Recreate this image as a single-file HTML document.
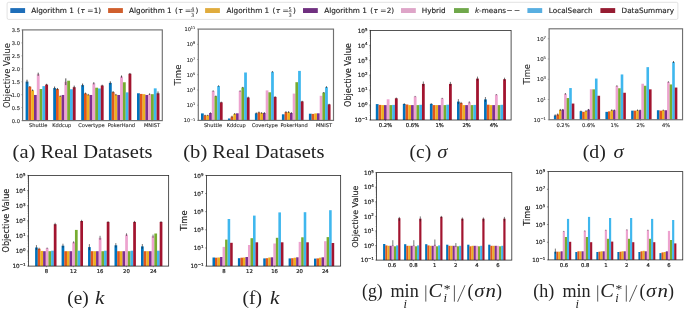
<!DOCTYPE html>
<html lang="en">
<head>
<meta charset="utf-8">
<title>Figure</title>
<style>html,body{margin:0;padding:0;background:#fff}svg{display:block}</style>
</head>
<body>
<svg width="685" height="309" viewBox="0 0 685 309" font-family='"DejaVu Sans","Liberation Sans",sans-serif' fill="#262626" shape-rendering="geometricPrecision">
<rect width="685" height="309" fill="#ffffff"/>
<g id="legend">
<rect x="7.1" y="2.3" width="670.8" height="17.1" rx="1.5" ry="1.5" fill="#fff" stroke="#cfcfcf" stroke-width="0.6"/>
<rect x="10.3" y="8.1" width="14.8" height="4.9" fill="#1E6EB9"/>
<rect x="108.1" y="8.1" width="14.8" height="4.9" fill="#D05F2D"/>
<rect x="205.1" y="8.1" width="14.8" height="4.9" fill="#E0AC3E"/>
<rect x="303" y="8.1" width="14.8" height="4.9" fill="#703080"/>
<rect x="401" y="8.1" width="14.8" height="4.9" fill="#DEA5C8"/>
<rect x="454" y="8.1" width="14.8" height="4.9" fill="#70A84B"/>
<rect x="527.4" y="8.1" width="14.8" height="4.9" fill="#58AFE1"/>
<rect x="600.4" y="8.1" width="14.8" height="4.9" fill="#961C32"/>
<text x="31.2" y="13.2" font-size="7.3" fill="#262626" stroke="#262626" stroke-width="0.15">Algorithm 1</text>
<text x="77.2" y="13.2" font-size="7.25" fill="#262626" stroke="#262626" stroke-width="0.15">(<tspan x="80.5" font-style="italic">τ</tspan><tspan x="87.3">=</tspan><tspan x="93.8">1</tspan><tspan x="98.2">)</tspan></text>
<text x="129" y="13.2" font-size="7.3" fill="#262626" stroke="#262626" stroke-width="0.15">Algorithm 1</text>
<text x="175" y="13.2" font-size="7.25" fill="#262626" stroke="#262626" stroke-width="0.15">(<tspan x="178.3" font-style="italic">τ</tspan><tspan x="185.1">=</tspan></text>
<text x="192.5" y="10.7" font-size="5.1" text-anchor="middle" fill="#262626">4</text><line x1="190.7" y1="11.6" x2="194.3" y2="11.6" stroke="#262626" stroke-width="0.45"/><text x="192.5" y="16.5" font-size="5.1" text-anchor="middle" fill="#262626">3</text>
<text x="195.5" y="13.2" font-size="7.25" fill="#262626" stroke="#262626" stroke-width="0.15">)</text>
<text x="226.5" y="13.2" font-size="7.3" fill="#262626" stroke="#262626" stroke-width="0.15">Algorithm 1</text>
<text x="272.5" y="13.2" font-size="7.25" fill="#262626" stroke="#262626" stroke-width="0.15">(<tspan x="275.8" font-style="italic">τ</tspan><tspan x="282.6">=</tspan></text>
<text x="290" y="10.7" font-size="5.1" text-anchor="middle" fill="#262626">5</text><line x1="288.2" y1="11.6" x2="291.8" y2="11.6" stroke="#262626" stroke-width="0.45"/><text x="290" y="16.5" font-size="5.1" text-anchor="middle" fill="#262626">3</text>
<text x="293" y="13.2" font-size="7.25" fill="#262626" stroke="#262626" stroke-width="0.15">)</text>
<text x="324.2" y="13.2" font-size="7.3" fill="#262626" stroke="#262626" stroke-width="0.15">Algorithm 1</text>
<text x="370.2" y="13.2" font-size="7.25" fill="#262626" stroke="#262626" stroke-width="0.15">(<tspan x="373.5" font-style="italic">τ</tspan><tspan x="380.3">=</tspan><tspan x="386.8">2</tspan><tspan x="391.2">)</tspan></text>
<text x="421.7" y="13.2" font-size="7.25" fill="#262626" stroke="#262626" stroke-width="0.15">Hybrid</text>
<text x="474.9" y="13.2" font-size="7.25" fill="#262626" stroke="#262626" stroke-width="0.15"><tspan font-style="italic">k</tspan>-means<tspan x="506.4">−</tspan><tspan x="514.0">−</tspan></text>
<text x="548.8" y="13.2" font-size="7.25" fill="#262626" stroke="#262626" stroke-width="0.15">LocalSearch</text>
<text x="621.6" y="13.2" font-size="7.25" fill="#262626" stroke="#262626" stroke-width="0.15">DataSummary</text>
</g>
<g id="chart-a">
<rect x="25.6" y="81.62" width="2.85" height="38.98" fill="#0072BD"/>
<rect x="28.4" y="86.67" width="2.85" height="33.93" fill="#E2581C"/>
<rect x="31.2" y="90.3" width="2.85" height="30.3" fill="#EDB120"/>
<rect x="34" y="94.96" width="2.85" height="25.64" fill="#7E2F8E"/>
<rect x="36.8" y="74.24" width="2.85" height="46.36" fill="#EDA3CF"/>
<rect x="39.6" y="89" width="2.85" height="31.6" fill="#77AC30"/>
<rect x="42.4" y="86.15" width="2.85" height="34.45" fill="#3FB7EE"/>
<rect x="45.2" y="84.6" width="2.85" height="36" fill="#A2142F"/>
<line x1="27" y1="83.56" x2="27" y2="79.68" stroke="#3a3a3a" stroke-width="0.9"/>
<line x1="29.8" y1="87.19" x2="29.8" y2="86.15" stroke="#3a3a3a" stroke-width="0.9"/>
<line x1="32.6" y1="91.07" x2="32.6" y2="89.52" stroke="#3a3a3a" stroke-width="0.9"/>
<line x1="38.2" y1="75.79" x2="38.2" y2="72.69" stroke="#3a3a3a" stroke-width="0.9"/>
<line x1="46.6" y1="85.38" x2="46.6" y2="83.82" stroke="#3a3a3a" stroke-width="0.9"/>
<rect x="53.2" y="88.1" width="2.85" height="32.5" fill="#0072BD"/>
<rect x="56" y="89" width="2.85" height="31.6" fill="#E2581C"/>
<rect x="58.8" y="96.25" width="2.85" height="24.35" fill="#EDB120"/>
<rect x="61.6" y="94.96" width="2.85" height="25.64" fill="#7E2F8E"/>
<rect x="64.4" y="81.75" width="2.85" height="38.85" fill="#EDA3CF"/>
<rect x="67.2" y="80.71" width="2.85" height="39.89" fill="#77AC30"/>
<rect x="70" y="89.26" width="2.85" height="31.34" fill="#3FB7EE"/>
<rect x="72.8" y="87.19" width="2.85" height="33.41" fill="#A2142F"/>
<line x1="54.6" y1="89.65" x2="54.6" y2="86.54" stroke="#3a3a3a" stroke-width="0.9"/>
<line x1="57.4" y1="90.04" x2="57.4" y2="87.97" stroke="#3a3a3a" stroke-width="0.9"/>
<line x1="60.2" y1="97.03" x2="60.2" y2="95.48" stroke="#3a3a3a" stroke-width="0.9"/>
<line x1="65.8" y1="85.12" x2="65.8" y2="78.38" stroke="#3a3a3a" stroke-width="0.9"/>
<line x1="74.2" y1="88.74" x2="74.2" y2="85.63" stroke="#3a3a3a" stroke-width="0.9"/>
<rect x="81.2" y="85.12" width="2.85" height="35.48" fill="#0072BD"/>
<rect x="84" y="93.41" width="2.85" height="27.2" fill="#E2581C"/>
<rect x="86.8" y="94.7" width="2.85" height="25.9" fill="#EDB120"/>
<rect x="89.6" y="94.96" width="2.85" height="25.64" fill="#7E2F8E"/>
<rect x="92.4" y="83.3" width="2.85" height="37.3" fill="#EDA3CF"/>
<rect x="95.2" y="87.71" width="2.85" height="32.89" fill="#77AC30"/>
<rect x="98" y="88.48" width="2.85" height="32.12" fill="#3FB7EE"/>
<rect x="100.8" y="85.51" width="2.85" height="35.09" fill="#A2142F"/>
<line x1="82.6" y1="86.67" x2="82.6" y2="83.56" stroke="#3a3a3a" stroke-width="0.9"/>
<line x1="85.4" y1="94.18" x2="85.4" y2="92.63" stroke="#3a3a3a" stroke-width="0.9"/>
<line x1="88.2" y1="95.48" x2="88.2" y2="93.92" stroke="#3a3a3a" stroke-width="0.9"/>
<line x1="93.8" y1="84.34" x2="93.8" y2="82.27" stroke="#3a3a3a" stroke-width="0.9"/>
<line x1="102.2" y1="86.28" x2="102.2" y2="84.73" stroke="#3a3a3a" stroke-width="0.9"/>
<rect x="108.9" y="82.92" width="2.85" height="37.68" fill="#0072BD"/>
<rect x="111.7" y="92.11" width="2.85" height="28.49" fill="#E2581C"/>
<rect x="114.5" y="94.7" width="2.85" height="25.9" fill="#EDB120"/>
<rect x="117.3" y="94.96" width="2.85" height="25.64" fill="#7E2F8E"/>
<rect x="120.1" y="76.57" width="2.85" height="44.03" fill="#EDA3CF"/>
<rect x="122.9" y="82.27" width="2.85" height="38.33" fill="#77AC30"/>
<rect x="125.7" y="92.37" width="2.85" height="28.23" fill="#3FB7EE"/>
<rect x="128.5" y="73.72" width="2.85" height="46.88" fill="#A2142F"/>
<line x1="110.3" y1="84.47" x2="110.3" y2="81.36" stroke="#3a3a3a" stroke-width="0.9"/>
<line x1="113.1" y1="93.15" x2="113.1" y2="91.07" stroke="#3a3a3a" stroke-width="0.9"/>
<line x1="115.9" y1="95.48" x2="115.9" y2="93.92" stroke="#3a3a3a" stroke-width="0.9"/>
<line x1="121.5" y1="77.61" x2="121.5" y2="75.53" stroke="#3a3a3a" stroke-width="0.9"/>
<line x1="129.9" y1="74.5" x2="129.9" y2="72.94" stroke="#3a3a3a" stroke-width="0.9"/>
<rect x="137" y="93.28" width="2.85" height="27.32" fill="#0072BD"/>
<rect x="139.8" y="93.92" width="2.85" height="26.68" fill="#E2581C"/>
<rect x="142.6" y="94.18" width="2.85" height="26.42" fill="#EDB120"/>
<rect x="145.4" y="94.96" width="2.85" height="25.64" fill="#7E2F8E"/>
<rect x="148.2" y="94.18" width="2.85" height="26.42" fill="#EDA3CF"/>
<rect x="151" y="94.18" width="2.85" height="26.42" fill="#77AC30"/>
<rect x="153.8" y="88.35" width="2.85" height="32.25" fill="#3FB7EE"/>
<rect x="156.6" y="93.28" width="2.85" height="27.32" fill="#A2142F"/>
<line x1="149.6" y1="94.96" x2="149.6" y2="93.41" stroke="#3a3a3a" stroke-width="0.9"/>
<line x1="158" y1="95.09" x2="158" y2="91.46" stroke="#3a3a3a" stroke-width="0.9"/>
<rect x="22.6" y="29.9" width="139.7" height="90.7" fill="none" stroke="#707070" stroke-width="1.15"/>
<line x1="21.3" y1="120.6" x2="22.6" y2="120.6" stroke="#707070" stroke-width="0.5"/>
<text x="20" y="123.1" font-size="5.2" text-anchor="end" stroke="#262626" stroke-width="0.1">0.0</text>
<line x1="21.3" y1="107.65" x2="22.6" y2="107.65" stroke="#707070" stroke-width="0.5"/>
<text x="20" y="110.15" font-size="5.2" text-anchor="end" stroke="#262626" stroke-width="0.1">0.5</text>
<line x1="21.3" y1="94.7" x2="22.6" y2="94.7" stroke="#707070" stroke-width="0.5"/>
<text x="20" y="97.2" font-size="5.2" text-anchor="end" stroke="#262626" stroke-width="0.1">1.0</text>
<line x1="21.3" y1="81.75" x2="22.6" y2="81.75" stroke="#707070" stroke-width="0.5"/>
<text x="20" y="84.25" font-size="5.2" text-anchor="end" stroke="#262626" stroke-width="0.1">1.5</text>
<line x1="21.3" y1="68.8" x2="22.6" y2="68.8" stroke="#707070" stroke-width="0.5"/>
<text x="20" y="71.3" font-size="5.2" text-anchor="end" stroke="#262626" stroke-width="0.1">2.0</text>
<line x1="21.3" y1="55.85" x2="22.6" y2="55.85" stroke="#707070" stroke-width="0.5"/>
<text x="20" y="58.35" font-size="5.2" text-anchor="end" stroke="#262626" stroke-width="0.1">2.5</text>
<line x1="21.3" y1="42.9" x2="22.6" y2="42.9" stroke="#707070" stroke-width="0.5"/>
<text x="20" y="45.4" font-size="5.2" text-anchor="end" stroke="#262626" stroke-width="0.1">3.0</text>
<line x1="21.3" y1="29.95" x2="22.6" y2="29.95" stroke="#707070" stroke-width="0.5"/>
<text x="20" y="32.45" font-size="5.2" text-anchor="end" stroke="#262626" stroke-width="0.1">3.5</text>
<line x1="38.2" y1="120.6" x2="38.2" y2="121.7" stroke="#707070" stroke-width="0.4"/>
<text x="38.2" y="127.26" font-size="5.1" text-anchor="middle" stroke="#262626" stroke-width="0.1">Shuttle</text>
<line x1="61.7" y1="120.6" x2="61.7" y2="121.7" stroke="#707070" stroke-width="0.4"/>
<text x="61.7" y="127.26" font-size="5.1" text-anchor="middle" stroke="#262626" stroke-width="0.1">Kddcup</text>
<line x1="91.4" y1="120.6" x2="91.4" y2="121.7" stroke="#707070" stroke-width="0.4"/>
<text x="91.4" y="127.26" font-size="5.1" text-anchor="middle" stroke="#262626" stroke-width="0.1">Covertype</text>
<line x1="121.4" y1="120.6" x2="121.4" y2="121.7" stroke="#707070" stroke-width="0.4"/>
<text x="121.4" y="127.26" font-size="5.1" text-anchor="middle" stroke="#262626" stroke-width="0.1">PokerHand</text>
<line x1="152" y1="120.6" x2="152" y2="121.7" stroke="#707070" stroke-width="0.4"/>
<text x="152" y="127.26" font-size="5.1" text-anchor="middle" stroke="#262626" stroke-width="0.1">MNIST</text>
<text transform="translate(9.5 75.6) rotate(-90)" font-size="8.3" text-anchor="middle" stroke="#262626" stroke-width="0.08">Objective Value</text>
</g>
<g id="chart-b">
<rect x="201" y="113.4" width="2.75" height="7" fill="#0072BD"/>
<rect x="203.7" y="115.4" width="2.75" height="5" fill="#E2581C"/>
<rect x="206.4" y="115.4" width="2.75" height="5" fill="#EDB120"/>
<rect x="209.1" y="113" width="2.75" height="7.4" fill="#7E2F8E"/>
<rect x="211.8" y="91" width="2.75" height="29.4" fill="#EDA3CF"/>
<rect x="214.5" y="96.2" width="2.75" height="24.2" fill="#77AC30"/>
<rect x="217.2" y="86" width="2.75" height="34.4" fill="#3FB7EE"/>
<rect x="219.9" y="102.3" width="2.75" height="18.1" fill="#A2142F"/>
<line x1="205.05" y1="116" x2="205.05" y2="114.8" stroke="#3a3a3a" stroke-width="0.9"/>
<line x1="207.75" y1="116" x2="207.75" y2="114.8" stroke="#3a3a3a" stroke-width="0.9"/>
<line x1="210.45" y1="113.6" x2="210.45" y2="112.4" stroke="#3a3a3a" stroke-width="0.9"/>
<line x1="213.15" y1="91.6" x2="213.15" y2="90.4" stroke="#3a3a3a" stroke-width="0.9"/>
<line x1="215.85" y1="96.8" x2="215.85" y2="95.6" stroke="#3a3a3a" stroke-width="0.9"/>
<line x1="218.55" y1="86.6" x2="218.55" y2="85.4" stroke="#3a3a3a" stroke-width="0.9"/>
<line x1="221.25" y1="102.9" x2="221.25" y2="101.7" stroke="#3a3a3a" stroke-width="0.9"/>
<rect x="227.95" y="118.5" width="2.75" height="1.9" fill="#0072BD"/>
<rect x="230.65" y="116.65" width="2.75" height="3.75" fill="#E2581C"/>
<rect x="233.35" y="113.9" width="2.75" height="6.5" fill="#EDB120"/>
<rect x="236.05" y="113.3" width="2.75" height="7.1" fill="#7E2F8E"/>
<rect x="238.75" y="91" width="2.75" height="29.4" fill="#EDA3CF"/>
<rect x="241.45" y="87.5" width="2.75" height="32.9" fill="#77AC30"/>
<rect x="244.15" y="72.5" width="2.75" height="47.9" fill="#3FB7EE"/>
<rect x="246.85" y="97.5" width="2.75" height="22.9" fill="#A2142F"/>
<line x1="232" y1="117.55" x2="232" y2="115.75" stroke="#3a3a3a" stroke-width="0.9"/>
<line x1="234.7" y1="114.7" x2="234.7" y2="113.1" stroke="#3a3a3a" stroke-width="0.9"/>
<line x1="240.1" y1="91.6" x2="240.1" y2="90.4" stroke="#3a3a3a" stroke-width="0.9"/>
<line x1="242.8" y1="88.1" x2="242.8" y2="86.9" stroke="#3a3a3a" stroke-width="0.9"/>
<line x1="248.2" y1="98.3" x2="248.2" y2="96.7" stroke="#3a3a3a" stroke-width="0.9"/>
<rect x="254.9" y="113.3" width="2.75" height="7.1" fill="#0072BD"/>
<rect x="257.6" y="112.4" width="2.75" height="8" fill="#E2581C"/>
<rect x="260.3" y="113" width="2.75" height="7.4" fill="#EDB120"/>
<rect x="263" y="113" width="2.75" height="7.4" fill="#7E2F8E"/>
<rect x="265.7" y="90.4" width="2.75" height="30" fill="#EDA3CF"/>
<rect x="268.4" y="92.3" width="2.75" height="28.1" fill="#77AC30"/>
<rect x="271.1" y="71.8" width="2.75" height="48.6" fill="#3FB7EE"/>
<rect x="273.8" y="96.9" width="2.75" height="23.5" fill="#A2142F"/>
<line x1="256.25" y1="114.1" x2="256.25" y2="112.5" stroke="#3a3a3a" stroke-width="0.9"/>
<line x1="258.95" y1="113.2" x2="258.95" y2="111.6" stroke="#3a3a3a" stroke-width="0.9"/>
<line x1="261.65" y1="113.8" x2="261.65" y2="112.2" stroke="#3a3a3a" stroke-width="0.9"/>
<line x1="264.35" y1="113.8" x2="264.35" y2="112.2" stroke="#3a3a3a" stroke-width="0.9"/>
<line x1="272.45" y1="72.4" x2="272.45" y2="71.2" stroke="#3a3a3a" stroke-width="0.9"/>
<line x1="275.15" y1="97.5" x2="275.15" y2="96.3" stroke="#3a3a3a" stroke-width="0.9"/>
<rect x="281.9" y="114.3" width="2.75" height="6.1" fill="#0072BD"/>
<rect x="284.6" y="112.1" width="2.75" height="8.3" fill="#E2581C"/>
<rect x="287.3" y="112.1" width="2.75" height="8.3" fill="#EDB120"/>
<rect x="290" y="113" width="2.75" height="7.4" fill="#7E2F8E"/>
<rect x="292.7" y="93.6" width="2.75" height="26.8" fill="#EDA3CF"/>
<rect x="295.4" y="82.2" width="2.75" height="38.2" fill="#77AC30"/>
<rect x="298.1" y="70.9" width="2.75" height="49.5" fill="#3FB7EE"/>
<rect x="300.8" y="101.4" width="2.75" height="19" fill="#A2142F"/>
<line x1="285.95" y1="113" x2="285.95" y2="111.2" stroke="#3a3a3a" stroke-width="0.9"/>
<line x1="288.65" y1="113" x2="288.65" y2="111.2" stroke="#3a3a3a" stroke-width="0.9"/>
<line x1="291.35" y1="113.8" x2="291.35" y2="112.2" stroke="#3a3a3a" stroke-width="0.9"/>
<line x1="302.15" y1="102" x2="302.15" y2="100.8" stroke="#3a3a3a" stroke-width="0.9"/>
<rect x="308.9" y="113.7" width="2.75" height="6.7" fill="#0072BD"/>
<rect x="311.6" y="113.9" width="2.75" height="6.5" fill="#E2581C"/>
<rect x="314.3" y="113.4" width="2.75" height="7" fill="#EDB120"/>
<rect x="317" y="113.3" width="2.75" height="7.1" fill="#7E2F8E"/>
<rect x="319.7" y="95.8" width="2.75" height="24.6" fill="#EDA3CF"/>
<rect x="322.4" y="92.6" width="2.75" height="27.8" fill="#77AC30"/>
<rect x="325.1" y="87.1" width="2.75" height="33.3" fill="#3FB7EE"/>
<rect x="327.8" y="104.4" width="2.75" height="16" fill="#A2142F"/>
<line x1="323.75" y1="93.2" x2="323.75" y2="92" stroke="#3a3a3a" stroke-width="0.9"/>
<line x1="326.45" y1="87.9" x2="326.45" y2="86.3" stroke="#3a3a3a" stroke-width="0.9"/>
<line x1="329.15" y1="105" x2="329.15" y2="103.8" stroke="#3a3a3a" stroke-width="0.9"/>
<rect x="198.3" y="29.1" width="135.2" height="91.3" fill="none" stroke="#707070" stroke-width="1.15"/>
<line x1="197" y1="120.4" x2="198.3" y2="120.4" stroke="#707070" stroke-width="0.5"/>
<text x="195.3" y="122.38" font-size="5" text-anchor="end" stroke="#262626" stroke-width="0.1">10<tspan dy="-1.85" font-size="3.5">−1</tspan></text>
<line x1="197" y1="105.18" x2="198.3" y2="105.18" stroke="#707070" stroke-width="0.5"/>
<text x="195.3" y="107.16" font-size="5" text-anchor="end" stroke="#262626" stroke-width="0.1">10<tspan dy="-1.85" font-size="3.5">1</tspan></text>
<line x1="197" y1="89.96" x2="198.3" y2="89.96" stroke="#707070" stroke-width="0.5"/>
<text x="195.3" y="91.94" font-size="5" text-anchor="end" stroke="#262626" stroke-width="0.1">10<tspan dy="-1.85" font-size="3.5">3</tspan></text>
<line x1="197" y1="74.74" x2="198.3" y2="74.74" stroke="#707070" stroke-width="0.5"/>
<text x="195.3" y="76.72" font-size="5" text-anchor="end" stroke="#262626" stroke-width="0.1">10<tspan dy="-1.85" font-size="3.5">5</tspan></text>
<line x1="197" y1="59.52" x2="198.3" y2="59.52" stroke="#707070" stroke-width="0.5"/>
<text x="195.3" y="61.5" font-size="5" text-anchor="end" stroke="#262626" stroke-width="0.1">10<tspan dy="-1.85" font-size="3.5">7</tspan></text>
<line x1="197" y1="44.3" x2="198.3" y2="44.3" stroke="#707070" stroke-width="0.5"/>
<text x="195.3" y="46.27" font-size="5" text-anchor="end" stroke="#262626" stroke-width="0.1">10<tspan dy="-1.85" font-size="3.5">9</tspan></text>
<line x1="197" y1="29.08" x2="198.3" y2="29.08" stroke="#707070" stroke-width="0.5"/>
<text x="195.3" y="31.05" font-size="5" text-anchor="end" stroke="#262626" stroke-width="0.1">10<tspan dy="-1.85" font-size="3.5">11</tspan></text>
<line x1="213" y1="120.4" x2="213" y2="121.5" stroke="#707070" stroke-width="0.4"/>
<text x="213" y="127.36" font-size="5.1" text-anchor="middle" stroke="#262626" stroke-width="0.1">Shuttle</text>
<line x1="236.2" y1="120.4" x2="236.2" y2="121.5" stroke="#707070" stroke-width="0.4"/>
<text x="236.2" y="127.36" font-size="5.1" text-anchor="middle" stroke="#262626" stroke-width="0.1">Kddcup</text>
<line x1="264.8" y1="120.4" x2="264.8" y2="121.5" stroke="#707070" stroke-width="0.4"/>
<text x="264.8" y="127.36" font-size="5.1" text-anchor="middle" stroke="#262626" stroke-width="0.1">Covertype</text>
<line x1="294.1" y1="120.4" x2="294.1" y2="121.5" stroke="#707070" stroke-width="0.4"/>
<text x="294.1" y="127.36" font-size="5.1" text-anchor="middle" stroke="#262626" stroke-width="0.1">PokerHand</text>
<line x1="324" y1="120.4" x2="324" y2="121.5" stroke="#707070" stroke-width="0.4"/>
<text x="324" y="127.36" font-size="5.1" text-anchor="middle" stroke="#262626" stroke-width="0.1">MNIST</text>
<text transform="translate(181 75.1) rotate(-90)" font-size="8.6" text-anchor="middle" stroke="#262626" stroke-width="0.08">Time</text>
</g>
<g id="chart-c">
<rect x="375.8" y="104.1" width="2.78" height="15.9" fill="#0072BD"/>
<rect x="378.53" y="104.9" width="2.78" height="15.1" fill="#E2581C"/>
<rect x="381.26" y="105.1" width="2.78" height="14.9" fill="#EDB120"/>
<rect x="383.99" y="105.1" width="2.78" height="14.9" fill="#7E2F8E"/>
<rect x="386.72" y="99.3" width="2.78" height="20.7" fill="#EDA3CF"/>
<rect x="389.45" y="105.1" width="2.78" height="14.9" fill="#77AC30"/>
<rect x="392.18" y="104.9" width="2.78" height="15.1" fill="#3FB7EE"/>
<rect x="394.91" y="98.3" width="2.78" height="21.7" fill="#A2142F"/>
<line x1="396.28" y1="99.1" x2="396.28" y2="97.5" stroke="#1c1c1c" stroke-width="0.6"/>
<rect x="402.85" y="104" width="2.78" height="16" fill="#0072BD"/>
<rect x="405.58" y="104.5" width="2.78" height="15.5" fill="#E2581C"/>
<rect x="408.31" y="105.1" width="2.78" height="14.9" fill="#EDB120"/>
<rect x="411.04" y="105.1" width="2.78" height="14.9" fill="#7E2F8E"/>
<rect x="413.77" y="96.5" width="2.78" height="23.5" fill="#EDA3CF"/>
<rect x="416.5" y="105.1" width="2.78" height="14.9" fill="#77AC30"/>
<rect x="419.23" y="104.8" width="2.78" height="15.2" fill="#3FB7EE"/>
<rect x="421.96" y="83.9" width="2.78" height="36.1" fill="#A2142F"/>
<line x1="404.22" y1="104.9" x2="404.22" y2="103.1" stroke="#1c1c1c" stroke-width="0.6"/>
<line x1="415.14" y1="97.1" x2="415.14" y2="95.9" stroke="#1c1c1c" stroke-width="0.6"/>
<line x1="423.33" y1="86.3" x2="423.33" y2="81.5" stroke="#1c1c1c" stroke-width="0.6"/>
<rect x="429.9" y="103.9" width="2.78" height="16.1" fill="#0072BD"/>
<rect x="432.63" y="105.1" width="2.78" height="14.9" fill="#E2581C"/>
<rect x="435.36" y="105.1" width="2.78" height="14.9" fill="#EDB120"/>
<rect x="438.09" y="105.1" width="2.78" height="14.9" fill="#7E2F8E"/>
<rect x="440.82" y="98.4" width="2.78" height="21.6" fill="#EDA3CF"/>
<rect x="443.55" y="105.1" width="2.78" height="14.9" fill="#77AC30"/>
<rect x="446.28" y="104.7" width="2.78" height="15.3" fill="#3FB7EE"/>
<rect x="449.01" y="83.9" width="2.78" height="36.1" fill="#A2142F"/>
<line x1="431.26" y1="104.7" x2="431.26" y2="103.1" stroke="#1c1c1c" stroke-width="0.6"/>
<line x1="442.19" y1="99" x2="442.19" y2="97.8" stroke="#1c1c1c" stroke-width="0.6"/>
<line x1="450.38" y1="85.9" x2="450.38" y2="81.9" stroke="#1c1c1c" stroke-width="0.6"/>
<rect x="457" y="101.6" width="2.78" height="18.4" fill="#0072BD"/>
<rect x="459.73" y="102.9" width="2.78" height="17.1" fill="#E2581C"/>
<rect x="462.46" y="105.1" width="2.78" height="14.9" fill="#EDB120"/>
<rect x="465.19" y="105.1" width="2.78" height="14.9" fill="#7E2F8E"/>
<rect x="467.92" y="102.3" width="2.78" height="17.7" fill="#EDA3CF"/>
<rect x="470.65" y="105.1" width="2.78" height="14.9" fill="#77AC30"/>
<rect x="473.38" y="104.9" width="2.78" height="15.1" fill="#3FB7EE"/>
<rect x="476.11" y="78.6" width="2.78" height="41.4" fill="#A2142F"/>
<line x1="458.37" y1="104.1" x2="458.37" y2="99.1" stroke="#1c1c1c" stroke-width="0.6"/>
<line x1="461.1" y1="103.9" x2="461.1" y2="101.9" stroke="#1c1c1c" stroke-width="0.6"/>
<line x1="469.29" y1="103.3" x2="469.29" y2="101.3" stroke="#1c1c1c" stroke-width="0.6"/>
<line x1="477.48" y1="80.6" x2="477.48" y2="76.6" stroke="#1c1c1c" stroke-width="0.6"/>
<rect x="484.05" y="99.4" width="2.78" height="20.6" fill="#0072BD"/>
<rect x="486.78" y="104.7" width="2.78" height="15.3" fill="#E2581C"/>
<rect x="489.51" y="105.1" width="2.78" height="14.9" fill="#EDB120"/>
<rect x="492.24" y="105.1" width="2.78" height="14.9" fill="#7E2F8E"/>
<rect x="494.97" y="94.6" width="2.78" height="25.4" fill="#EDA3CF"/>
<rect x="497.7" y="105.1" width="2.78" height="14.9" fill="#77AC30"/>
<rect x="500.43" y="104.8" width="2.78" height="15.2" fill="#3FB7EE"/>
<rect x="503.16" y="79.2" width="2.78" height="40.8" fill="#A2142F"/>
<line x1="485.42" y1="101.8" x2="485.42" y2="97" stroke="#1c1c1c" stroke-width="0.6"/>
<line x1="496.34" y1="95.2" x2="496.34" y2="94" stroke="#1c1c1c" stroke-width="0.6"/>
<line x1="504.53" y1="80.7" x2="504.53" y2="77.7" stroke="#1c1c1c" stroke-width="0.6"/>
<rect x="370.45" y="30.4" width="140.65" height="89.6" fill="none" stroke="#2a2a2a" stroke-width="0.8"/>
<line x1="369.15" y1="120" x2="370.45" y2="120" stroke="#2a2a2a" stroke-width="0.5"/>
<text x="367.5" y="122.23" font-size="5.7" text-anchor="end" stroke="#262626" stroke-width="0.2">10<tspan dy="-2.11" font-size="3.99">−1</tspan></text>
<line x1="369.15" y1="105.07" x2="370.45" y2="105.07" stroke="#2a2a2a" stroke-width="0.5"/>
<text x="367.5" y="107.3" font-size="5.7" text-anchor="end" stroke="#262626" stroke-width="0.2">10<tspan dy="-2.11" font-size="3.99">0</tspan></text>
<line x1="369.15" y1="90.14" x2="370.45" y2="90.14" stroke="#2a2a2a" stroke-width="0.5"/>
<text x="367.5" y="92.37" font-size="5.7" text-anchor="end" stroke="#262626" stroke-width="0.2">10<tspan dy="-2.11" font-size="3.99">1</tspan></text>
<line x1="369.15" y1="75.21" x2="370.45" y2="75.21" stroke="#2a2a2a" stroke-width="0.5"/>
<text x="367.5" y="77.44" font-size="5.7" text-anchor="end" stroke="#262626" stroke-width="0.2">10<tspan dy="-2.11" font-size="3.99">2</tspan></text>
<line x1="369.15" y1="60.28" x2="370.45" y2="60.28" stroke="#2a2a2a" stroke-width="0.5"/>
<text x="367.5" y="62.51" font-size="5.7" text-anchor="end" stroke="#262626" stroke-width="0.2">10<tspan dy="-2.11" font-size="3.99">3</tspan></text>
<line x1="369.15" y1="45.35" x2="370.45" y2="45.35" stroke="#2a2a2a" stroke-width="0.5"/>
<text x="367.5" y="47.58" font-size="5.7" text-anchor="end" stroke="#262626" stroke-width="0.2">10<tspan dy="-2.11" font-size="3.99">4</tspan></text>
<line x1="369.15" y1="30.42" x2="370.45" y2="30.42" stroke="#2a2a2a" stroke-width="0.5"/>
<text x="367.5" y="32.65" font-size="5.7" text-anchor="end" stroke="#262626" stroke-width="0.2">10<tspan dy="-2.11" font-size="3.99">5</tspan></text>
<line x1="369.55" y1="115.51" x2="370.45" y2="115.51" stroke="#2a2a2a" stroke-width="0.3"/>
<line x1="369.55" y1="112.88" x2="370.45" y2="112.88" stroke="#2a2a2a" stroke-width="0.3"/>
<line x1="369.55" y1="111.01" x2="370.45" y2="111.01" stroke="#2a2a2a" stroke-width="0.3"/>
<line x1="369.55" y1="109.56" x2="370.45" y2="109.56" stroke="#2a2a2a" stroke-width="0.3"/>
<line x1="369.55" y1="108.38" x2="370.45" y2="108.38" stroke="#2a2a2a" stroke-width="0.3"/>
<line x1="369.55" y1="107.38" x2="370.45" y2="107.38" stroke="#2a2a2a" stroke-width="0.3"/>
<line x1="369.55" y1="106.52" x2="370.45" y2="106.52" stroke="#2a2a2a" stroke-width="0.3"/>
<line x1="369.55" y1="105.75" x2="370.45" y2="105.75" stroke="#2a2a2a" stroke-width="0.3"/>
<line x1="369.55" y1="100.58" x2="370.45" y2="100.58" stroke="#2a2a2a" stroke-width="0.3"/>
<line x1="369.55" y1="97.95" x2="370.45" y2="97.95" stroke="#2a2a2a" stroke-width="0.3"/>
<line x1="369.55" y1="96.08" x2="370.45" y2="96.08" stroke="#2a2a2a" stroke-width="0.3"/>
<line x1="369.55" y1="94.63" x2="370.45" y2="94.63" stroke="#2a2a2a" stroke-width="0.3"/>
<line x1="369.55" y1="93.45" x2="370.45" y2="93.45" stroke="#2a2a2a" stroke-width="0.3"/>
<line x1="369.55" y1="92.45" x2="370.45" y2="92.45" stroke="#2a2a2a" stroke-width="0.3"/>
<line x1="369.55" y1="91.59" x2="370.45" y2="91.59" stroke="#2a2a2a" stroke-width="0.3"/>
<line x1="369.55" y1="90.82" x2="370.45" y2="90.82" stroke="#2a2a2a" stroke-width="0.3"/>
<line x1="369.55" y1="85.65" x2="370.45" y2="85.65" stroke="#2a2a2a" stroke-width="0.3"/>
<line x1="369.55" y1="83.02" x2="370.45" y2="83.02" stroke="#2a2a2a" stroke-width="0.3"/>
<line x1="369.55" y1="81.15" x2="370.45" y2="81.15" stroke="#2a2a2a" stroke-width="0.3"/>
<line x1="369.55" y1="79.7" x2="370.45" y2="79.7" stroke="#2a2a2a" stroke-width="0.3"/>
<line x1="369.55" y1="78.52" x2="370.45" y2="78.52" stroke="#2a2a2a" stroke-width="0.3"/>
<line x1="369.55" y1="77.52" x2="370.45" y2="77.52" stroke="#2a2a2a" stroke-width="0.3"/>
<line x1="369.55" y1="76.66" x2="370.45" y2="76.66" stroke="#2a2a2a" stroke-width="0.3"/>
<line x1="369.55" y1="75.89" x2="370.45" y2="75.89" stroke="#2a2a2a" stroke-width="0.3"/>
<line x1="369.55" y1="70.72" x2="370.45" y2="70.72" stroke="#2a2a2a" stroke-width="0.3"/>
<line x1="369.55" y1="68.09" x2="370.45" y2="68.09" stroke="#2a2a2a" stroke-width="0.3"/>
<line x1="369.55" y1="66.22" x2="370.45" y2="66.22" stroke="#2a2a2a" stroke-width="0.3"/>
<line x1="369.55" y1="64.77" x2="370.45" y2="64.77" stroke="#2a2a2a" stroke-width="0.3"/>
<line x1="369.55" y1="63.59" x2="370.45" y2="63.59" stroke="#2a2a2a" stroke-width="0.3"/>
<line x1="369.55" y1="62.59" x2="370.45" y2="62.59" stroke="#2a2a2a" stroke-width="0.3"/>
<line x1="369.55" y1="61.73" x2="370.45" y2="61.73" stroke="#2a2a2a" stroke-width="0.3"/>
<line x1="369.55" y1="60.96" x2="370.45" y2="60.96" stroke="#2a2a2a" stroke-width="0.3"/>
<line x1="369.55" y1="55.79" x2="370.45" y2="55.79" stroke="#2a2a2a" stroke-width="0.3"/>
<line x1="369.55" y1="53.16" x2="370.45" y2="53.16" stroke="#2a2a2a" stroke-width="0.3"/>
<line x1="369.55" y1="51.29" x2="370.45" y2="51.29" stroke="#2a2a2a" stroke-width="0.3"/>
<line x1="369.55" y1="49.84" x2="370.45" y2="49.84" stroke="#2a2a2a" stroke-width="0.3"/>
<line x1="369.55" y1="48.66" x2="370.45" y2="48.66" stroke="#2a2a2a" stroke-width="0.3"/>
<line x1="369.55" y1="47.66" x2="370.45" y2="47.66" stroke="#2a2a2a" stroke-width="0.3"/>
<line x1="369.55" y1="46.8" x2="370.45" y2="46.8" stroke="#2a2a2a" stroke-width="0.3"/>
<line x1="369.55" y1="46.03" x2="370.45" y2="46.03" stroke="#2a2a2a" stroke-width="0.3"/>
<line x1="369.55" y1="40.86" x2="370.45" y2="40.86" stroke="#2a2a2a" stroke-width="0.3"/>
<line x1="369.55" y1="38.23" x2="370.45" y2="38.23" stroke="#2a2a2a" stroke-width="0.3"/>
<line x1="369.55" y1="36.36" x2="370.45" y2="36.36" stroke="#2a2a2a" stroke-width="0.3"/>
<line x1="369.55" y1="34.91" x2="370.45" y2="34.91" stroke="#2a2a2a" stroke-width="0.3"/>
<line x1="369.55" y1="33.73" x2="370.45" y2="33.73" stroke="#2a2a2a" stroke-width="0.3"/>
<line x1="369.55" y1="32.73" x2="370.45" y2="32.73" stroke="#2a2a2a" stroke-width="0.3"/>
<line x1="369.55" y1="31.87" x2="370.45" y2="31.87" stroke="#2a2a2a" stroke-width="0.3"/>
<line x1="369.55" y1="31.1" x2="370.45" y2="31.1" stroke="#2a2a2a" stroke-width="0.3"/>
<line x1="385.5" y1="120" x2="385.5" y2="121.1" stroke="#2a2a2a" stroke-width="0.4"/>
<text x="385.5" y="126.93" font-size="5.3" text-anchor="middle" stroke="#262626" stroke-width="0.2">0.2%</text>
<line x1="412.5" y1="120" x2="412.5" y2="121.1" stroke="#2a2a2a" stroke-width="0.4"/>
<text x="412.5" y="126.93" font-size="5.3" text-anchor="middle" stroke="#262626" stroke-width="0.2">0.6%</text>
<line x1="439.7" y1="120" x2="439.7" y2="121.1" stroke="#2a2a2a" stroke-width="0.4"/>
<text x="439.7" y="126.93" font-size="5.3" text-anchor="middle" stroke="#262626" stroke-width="0.2">1%</text>
<line x1="466.7" y1="120" x2="466.7" y2="121.1" stroke="#2a2a2a" stroke-width="0.4"/>
<text x="466.7" y="126.93" font-size="5.3" text-anchor="middle" stroke="#262626" stroke-width="0.2">2%</text>
<line x1="493.9" y1="120" x2="493.9" y2="121.1" stroke="#2a2a2a" stroke-width="0.4"/>
<text x="493.9" y="126.93" font-size="5.3" text-anchor="middle" stroke="#262626" stroke-width="0.2">4%</text>
<text transform="translate(351.4 75.1) rotate(-90)" font-size="8.2" text-anchor="middle" stroke="#262626" stroke-width="0.16">Objective Value</text>
</g>
<g id="chart-d">
<rect x="553.9" y="115.45" width="2.6" height="4.3" fill="#0072BD"/>
<rect x="556.45" y="114.55" width="2.6" height="5.2" fill="#E2581C"/>
<rect x="559" y="109.95" width="2.6" height="9.8" fill="#EDB120"/>
<rect x="561.55" y="109.65" width="2.6" height="10.1" fill="#7E2F8E"/>
<rect x="564.1" y="93.85" width="2.6" height="25.9" fill="#EDA3CF"/>
<rect x="566.65" y="98.05" width="2.6" height="21.7" fill="#77AC30"/>
<rect x="569.2" y="88.05" width="2.6" height="31.7" fill="#3FB7EE"/>
<rect x="571.75" y="103.55" width="2.6" height="16.2" fill="#A2142F"/>
<line x1="555.17" y1="116.45" x2="555.17" y2="114.45" stroke="#3a3a3a" stroke-width="0.9"/>
<line x1="557.72" y1="115.55" x2="557.72" y2="113.55" stroke="#3a3a3a" stroke-width="0.9"/>
<line x1="560.27" y1="110.95" x2="560.27" y2="108.95" stroke="#3a3a3a" stroke-width="0.9"/>
<line x1="562.82" y1="110.35" x2="562.82" y2="108.95" stroke="#3a3a3a" stroke-width="0.9"/>
<line x1="565.38" y1="94.55" x2="565.38" y2="93.15" stroke="#3a3a3a" stroke-width="0.9"/>
<rect x="579.65" y="111.25" width="2.6" height="8.5" fill="#0072BD"/>
<rect x="582.2" y="111.85" width="2.6" height="7.9" fill="#E2581C"/>
<rect x="584.75" y="110.95" width="2.6" height="8.8" fill="#EDB120"/>
<rect x="587.3" y="109.65" width="2.6" height="10.1" fill="#7E2F8E"/>
<rect x="589.85" y="89.25" width="2.6" height="30.5" fill="#EDA3CF"/>
<rect x="592.4" y="89.35" width="2.6" height="30.4" fill="#77AC30"/>
<rect x="594.95" y="78.55" width="2.6" height="41.2" fill="#3FB7EE"/>
<rect x="597.5" y="95.75" width="2.6" height="24" fill="#A2142F"/>
<line x1="580.92" y1="111.85" x2="580.92" y2="110.65" stroke="#3a3a3a" stroke-width="0.9"/>
<line x1="586.02" y1="111.65" x2="586.02" y2="110.25" stroke="#3a3a3a" stroke-width="0.9"/>
<line x1="588.57" y1="110.35" x2="588.57" y2="108.95" stroke="#3a3a3a" stroke-width="0.9"/>
<rect x="605.4" y="111.85" width="2.6" height="7.9" fill="#0072BD"/>
<rect x="607.95" y="111.35" width="2.6" height="8.4" fill="#E2581C"/>
<rect x="610.5" y="110.25" width="2.6" height="9.5" fill="#EDB120"/>
<rect x="613.05" y="110.25" width="2.6" height="9.5" fill="#7E2F8E"/>
<rect x="615.6" y="85.95" width="2.6" height="33.8" fill="#EDA3CF"/>
<rect x="618.15" y="88.25" width="2.6" height="31.5" fill="#77AC30"/>
<rect x="620.7" y="74.45" width="2.6" height="45.3" fill="#3FB7EE"/>
<rect x="623.25" y="92.75" width="2.6" height="27" fill="#A2142F"/>
<line x1="611.77" y1="111.05" x2="611.77" y2="109.45" stroke="#3a3a3a" stroke-width="0.9"/>
<line x1="614.32" y1="110.95" x2="614.32" y2="109.55" stroke="#3a3a3a" stroke-width="0.9"/>
<line x1="616.88" y1="86.55" x2="616.88" y2="85.35" stroke="#3a3a3a" stroke-width="0.9"/>
<rect x="631.15" y="110.65" width="2.6" height="9.1" fill="#0072BD"/>
<rect x="633.7" y="110.65" width="2.6" height="9.1" fill="#E2581C"/>
<rect x="636.25" y="110.25" width="2.6" height="9.5" fill="#EDB120"/>
<rect x="638.8" y="110.25" width="2.6" height="9.5" fill="#7E2F8E"/>
<rect x="641.35" y="83.75" width="2.6" height="36" fill="#EDA3CF"/>
<rect x="643.9" y="85.75" width="2.6" height="34" fill="#77AC30"/>
<rect x="646.45" y="67.15" width="2.6" height="52.6" fill="#3FB7EE"/>
<rect x="649" y="89.35" width="2.6" height="30.4" fill="#A2142F"/>
<line x1="637.52" y1="110.95" x2="637.52" y2="109.55" stroke="#3a3a3a" stroke-width="0.9"/>
<line x1="640.07" y1="110.85" x2="640.07" y2="109.65" stroke="#3a3a3a" stroke-width="0.9"/>
<rect x="656.9" y="110.25" width="2.6" height="9.5" fill="#0072BD"/>
<rect x="659.45" y="110.65" width="2.6" height="9.1" fill="#E2581C"/>
<rect x="662" y="110.25" width="2.6" height="9.5" fill="#EDB120"/>
<rect x="664.55" y="110.25" width="2.6" height="9.5" fill="#7E2F8E"/>
<rect x="667.1" y="81.95" width="2.6" height="37.8" fill="#EDA3CF"/>
<rect x="669.65" y="84.45" width="2.6" height="35.3" fill="#77AC30"/>
<rect x="672.2" y="62.05" width="2.6" height="57.7" fill="#3FB7EE"/>
<rect x="674.75" y="87.55" width="2.6" height="32.2" fill="#A2142F"/>
<line x1="663.27" y1="110.85" x2="663.27" y2="109.65" stroke="#3a3a3a" stroke-width="0.9"/>
<line x1="668.38" y1="82.55" x2="668.38" y2="81.35" stroke="#3a3a3a" stroke-width="0.9"/>
<line x1="673.47" y1="62.95" x2="673.47" y2="61.15" stroke="#3a3a3a" stroke-width="0.9"/>
<rect x="549.1" y="28.8" width="133.45" height="90.95" fill="none" stroke="#707070" stroke-width="1.15"/>
<line x1="547.8" y1="119.75" x2="549.1" y2="119.75" stroke="#707070" stroke-width="0.5"/>
<text x="546" y="121.87" font-size="5.4" text-anchor="end" stroke="#262626" stroke-width="0.1">10<tspan dy="-2" font-size="3.78">−1</tspan></text>
<line x1="547.8" y1="99.51" x2="549.1" y2="99.51" stroke="#707070" stroke-width="0.5"/>
<text x="546" y="101.63" font-size="5.4" text-anchor="end" stroke="#262626" stroke-width="0.1">10<tspan dy="-2" font-size="3.78">1</tspan></text>
<line x1="547.8" y1="79.27" x2="549.1" y2="79.27" stroke="#707070" stroke-width="0.5"/>
<text x="546" y="81.39" font-size="5.4" text-anchor="end" stroke="#262626" stroke-width="0.1">10<tspan dy="-2" font-size="3.78">3</tspan></text>
<line x1="547.8" y1="59.03" x2="549.1" y2="59.03" stroke="#707070" stroke-width="0.5"/>
<text x="546" y="61.15" font-size="5.4" text-anchor="end" stroke="#262626" stroke-width="0.1">10<tspan dy="-2" font-size="3.78">5</tspan></text>
<line x1="547.8" y1="38.79" x2="549.1" y2="38.79" stroke="#707070" stroke-width="0.5"/>
<text x="546" y="40.91" font-size="5.4" text-anchor="end" stroke="#262626" stroke-width="0.1">10<tspan dy="-2" font-size="3.78">7</tspan></text>
<line x1="563" y1="119.75" x2="563" y2="120.85" stroke="#707070" stroke-width="0.4"/>
<text x="563" y="126.9" font-size="5.2" text-anchor="middle" stroke="#262626" stroke-width="0.1">0.2%</text>
<line x1="588.6" y1="119.75" x2="588.6" y2="120.85" stroke="#707070" stroke-width="0.4"/>
<text x="588.6" y="126.9" font-size="5.2" text-anchor="middle" stroke="#262626" stroke-width="0.1">0.6%</text>
<line x1="614.6" y1="119.75" x2="614.6" y2="120.85" stroke="#707070" stroke-width="0.4"/>
<text x="614.6" y="126.9" font-size="5.2" text-anchor="middle" stroke="#262626" stroke-width="0.1">1%</text>
<line x1="640.5" y1="119.75" x2="640.5" y2="120.85" stroke="#707070" stroke-width="0.4"/>
<text x="640.5" y="126.9" font-size="5.2" text-anchor="middle" stroke="#262626" stroke-width="0.1">2%</text>
<line x1="666.1" y1="119.75" x2="666.1" y2="120.85" stroke="#707070" stroke-width="0.4"/>
<text x="666.1" y="126.9" font-size="5.2" text-anchor="middle" stroke="#262626" stroke-width="0.1">4%</text>
<text transform="translate(529.5 74.25) rotate(-90)" font-size="8.4" text-anchor="middle" stroke="#262626" stroke-width="0.08">Time</text>
</g>
<g id="chart-e">
<rect x="35.1" y="247.5" width="2.72" height="18.6" fill="#0072BD"/>
<rect x="37.77" y="248.7" width="2.72" height="17.4" fill="#E2581C"/>
<rect x="40.44" y="250.9" width="2.72" height="15.2" fill="#EDB120"/>
<rect x="43.11" y="251.2" width="2.72" height="14.9" fill="#7E2F8E"/>
<rect x="45.78" y="248.2" width="2.72" height="17.9" fill="#EDA3CF"/>
<rect x="48.45" y="251.2" width="2.72" height="14.9" fill="#77AC30"/>
<rect x="51.12" y="250.7" width="2.72" height="15.4" fill="#3FB7EE"/>
<rect x="53.79" y="224.2" width="2.72" height="41.9" fill="#A2142F"/>
<line x1="36.44" y1="249.9" x2="36.44" y2="245.1" stroke="#1c1c1c" stroke-width="0.6"/>
<line x1="39.11" y1="249.7" x2="39.11" y2="247.7" stroke="#1c1c1c" stroke-width="0.6"/>
<line x1="47.12" y1="248.9" x2="47.12" y2="247.5" stroke="#1c1c1c" stroke-width="0.6"/>
<line x1="55.12" y1="225.6" x2="55.12" y2="222.8" stroke="#1c1c1c" stroke-width="0.6"/>
<rect x="61.6" y="245.7" width="2.72" height="20.4" fill="#0072BD"/>
<rect x="64.27" y="251.2" width="2.72" height="14.9" fill="#E2581C"/>
<rect x="66.94" y="251.2" width="2.72" height="14.9" fill="#EDB120"/>
<rect x="69.61" y="251.2" width="2.72" height="14.9" fill="#7E2F8E"/>
<rect x="72.28" y="242.3" width="2.72" height="23.8" fill="#EDA3CF"/>
<rect x="74.95" y="229.9" width="2.72" height="36.2" fill="#77AC30"/>
<rect x="77.62" y="250.7" width="2.72" height="15.4" fill="#3FB7EE"/>
<rect x="80.29" y="221" width="2.72" height="45.1" fill="#A2142F"/>
<line x1="62.94" y1="247.7" x2="62.94" y2="243.7" stroke="#1c1c1c" stroke-width="0.6"/>
<line x1="73.61" y1="243.3" x2="73.61" y2="241.3" stroke="#1c1c1c" stroke-width="0.6"/>
<line x1="81.62" y1="222.2" x2="81.62" y2="219.8" stroke="#1c1c1c" stroke-width="0.6"/>
<rect x="88.05" y="247.1" width="2.72" height="19" fill="#0072BD"/>
<rect x="90.72" y="251.2" width="2.72" height="14.9" fill="#E2581C"/>
<rect x="93.39" y="251.2" width="2.72" height="14.9" fill="#EDB120"/>
<rect x="96.06" y="251.2" width="2.72" height="14.9" fill="#7E2F8E"/>
<rect x="98.73" y="237.8" width="2.72" height="28.3" fill="#EDA3CF"/>
<rect x="101.4" y="251.2" width="2.72" height="14.9" fill="#77AC30"/>
<rect x="104.07" y="250.7" width="2.72" height="15.4" fill="#3FB7EE"/>
<rect x="106.74" y="221.9" width="2.72" height="44.2" fill="#A2142F"/>
<line x1="89.38" y1="250.1" x2="89.38" y2="244.1" stroke="#1c1c1c" stroke-width="0.6"/>
<line x1="100.06" y1="239.8" x2="100.06" y2="235.8" stroke="#1c1c1c" stroke-width="0.6"/>
<line x1="108.07" y1="222.7" x2="108.07" y2="221.1" stroke="#1c1c1c" stroke-width="0.6"/>
<rect x="114.5" y="245.3" width="2.72" height="20.8" fill="#0072BD"/>
<rect x="117.17" y="251.2" width="2.72" height="14.9" fill="#E2581C"/>
<rect x="119.84" y="251.2" width="2.72" height="14.9" fill="#EDB120"/>
<rect x="122.51" y="251.2" width="2.72" height="14.9" fill="#7E2F8E"/>
<rect x="125.18" y="234.6" width="2.72" height="31.5" fill="#EDA3CF"/>
<rect x="127.85" y="251.2" width="2.72" height="14.9" fill="#77AC30"/>
<rect x="130.52" y="250.7" width="2.72" height="15.4" fill="#3FB7EE"/>
<rect x="133.19" y="221.9" width="2.72" height="44.2" fill="#A2142F"/>
<line x1="115.83" y1="247.5" x2="115.83" y2="243.1" stroke="#1c1c1c" stroke-width="0.6"/>
<line x1="126.52" y1="235.9" x2="126.52" y2="233.3" stroke="#1c1c1c" stroke-width="0.6"/>
<line x1="134.53" y1="222.9" x2="134.53" y2="220.9" stroke="#1c1c1c" stroke-width="0.6"/>
<rect x="141" y="246.4" width="2.72" height="19.7" fill="#0072BD"/>
<rect x="143.67" y="251.2" width="2.72" height="14.9" fill="#E2581C"/>
<rect x="146.34" y="251.2" width="2.72" height="14.9" fill="#EDB120"/>
<rect x="149.01" y="251.2" width="2.72" height="14.9" fill="#7E2F8E"/>
<rect x="151.68" y="236.2" width="2.72" height="29.9" fill="#EDA3CF"/>
<rect x="154.35" y="233.5" width="2.72" height="32.6" fill="#77AC30"/>
<rect x="157.02" y="250.7" width="2.72" height="15.4" fill="#3FB7EE"/>
<rect x="159.69" y="221.9" width="2.72" height="44.2" fill="#A2142F"/>
<line x1="142.34" y1="248.8" x2="142.34" y2="244" stroke="#1c1c1c" stroke-width="0.6"/>
<line x1="153.02" y1="237.8" x2="153.02" y2="234.6" stroke="#1c1c1c" stroke-width="0.6"/>
<line x1="161.03" y1="222.7" x2="161.03" y2="221.1" stroke="#1c1c1c" stroke-width="0.6"/>
<rect x="28.45" y="175.4" width="140.2" height="90.7" fill="none" stroke="#2a2a2a" stroke-width="0.8"/>
<line x1="27.15" y1="266.1" x2="28.45" y2="266.1" stroke="#2a2a2a" stroke-width="0.5"/>
<text x="25.5" y="268.33" font-size="5.7" text-anchor="end" stroke="#262626" stroke-width="0.2">10<tspan dy="-2.11" font-size="3.99">−1</tspan></text>
<line x1="27.15" y1="250.98" x2="28.45" y2="250.98" stroke="#2a2a2a" stroke-width="0.5"/>
<text x="25.5" y="253.21" font-size="5.7" text-anchor="end" stroke="#262626" stroke-width="0.2">10<tspan dy="-2.11" font-size="3.99">0</tspan></text>
<line x1="27.15" y1="235.86" x2="28.45" y2="235.86" stroke="#2a2a2a" stroke-width="0.5"/>
<text x="25.5" y="238.09" font-size="5.7" text-anchor="end" stroke="#262626" stroke-width="0.2">10<tspan dy="-2.11" font-size="3.99">1</tspan></text>
<line x1="27.15" y1="220.74" x2="28.45" y2="220.74" stroke="#2a2a2a" stroke-width="0.5"/>
<text x="25.5" y="222.97" font-size="5.7" text-anchor="end" stroke="#262626" stroke-width="0.2">10<tspan dy="-2.11" font-size="3.99">2</tspan></text>
<line x1="27.15" y1="205.62" x2="28.45" y2="205.62" stroke="#2a2a2a" stroke-width="0.5"/>
<text x="25.5" y="207.85" font-size="5.7" text-anchor="end" stroke="#262626" stroke-width="0.2">10<tspan dy="-2.11" font-size="3.99">3</tspan></text>
<line x1="27.15" y1="190.5" x2="28.45" y2="190.5" stroke="#2a2a2a" stroke-width="0.5"/>
<text x="25.5" y="192.73" font-size="5.7" text-anchor="end" stroke="#262626" stroke-width="0.2">10<tspan dy="-2.11" font-size="3.99">4</tspan></text>
<line x1="27.15" y1="175.38" x2="28.45" y2="175.38" stroke="#2a2a2a" stroke-width="0.5"/>
<text x="25.5" y="177.61" font-size="5.7" text-anchor="end" stroke="#262626" stroke-width="0.2">10<tspan dy="-2.11" font-size="3.99">5</tspan></text>
<line x1="27.55" y1="261.55" x2="28.45" y2="261.55" stroke="#2a2a2a" stroke-width="0.3"/>
<line x1="27.55" y1="258.89" x2="28.45" y2="258.89" stroke="#2a2a2a" stroke-width="0.3"/>
<line x1="27.55" y1="257" x2="28.45" y2="257" stroke="#2a2a2a" stroke-width="0.3"/>
<line x1="27.55" y1="255.53" x2="28.45" y2="255.53" stroke="#2a2a2a" stroke-width="0.3"/>
<line x1="27.55" y1="254.33" x2="28.45" y2="254.33" stroke="#2a2a2a" stroke-width="0.3"/>
<line x1="27.55" y1="253.32" x2="28.45" y2="253.32" stroke="#2a2a2a" stroke-width="0.3"/>
<line x1="27.55" y1="252.45" x2="28.45" y2="252.45" stroke="#2a2a2a" stroke-width="0.3"/>
<line x1="27.55" y1="251.67" x2="28.45" y2="251.67" stroke="#2a2a2a" stroke-width="0.3"/>
<line x1="27.55" y1="246.43" x2="28.45" y2="246.43" stroke="#2a2a2a" stroke-width="0.3"/>
<line x1="27.55" y1="243.77" x2="28.45" y2="243.77" stroke="#2a2a2a" stroke-width="0.3"/>
<line x1="27.55" y1="241.88" x2="28.45" y2="241.88" stroke="#2a2a2a" stroke-width="0.3"/>
<line x1="27.55" y1="240.41" x2="28.45" y2="240.41" stroke="#2a2a2a" stroke-width="0.3"/>
<line x1="27.55" y1="239.21" x2="28.45" y2="239.21" stroke="#2a2a2a" stroke-width="0.3"/>
<line x1="27.55" y1="238.2" x2="28.45" y2="238.2" stroke="#2a2a2a" stroke-width="0.3"/>
<line x1="27.55" y1="237.33" x2="28.45" y2="237.33" stroke="#2a2a2a" stroke-width="0.3"/>
<line x1="27.55" y1="236.55" x2="28.45" y2="236.55" stroke="#2a2a2a" stroke-width="0.3"/>
<line x1="27.55" y1="231.31" x2="28.45" y2="231.31" stroke="#2a2a2a" stroke-width="0.3"/>
<line x1="27.55" y1="228.65" x2="28.45" y2="228.65" stroke="#2a2a2a" stroke-width="0.3"/>
<line x1="27.55" y1="226.76" x2="28.45" y2="226.76" stroke="#2a2a2a" stroke-width="0.3"/>
<line x1="27.55" y1="225.29" x2="28.45" y2="225.29" stroke="#2a2a2a" stroke-width="0.3"/>
<line x1="27.55" y1="224.09" x2="28.45" y2="224.09" stroke="#2a2a2a" stroke-width="0.3"/>
<line x1="27.55" y1="223.08" x2="28.45" y2="223.08" stroke="#2a2a2a" stroke-width="0.3"/>
<line x1="27.55" y1="222.21" x2="28.45" y2="222.21" stroke="#2a2a2a" stroke-width="0.3"/>
<line x1="27.55" y1="221.43" x2="28.45" y2="221.43" stroke="#2a2a2a" stroke-width="0.3"/>
<line x1="27.55" y1="216.19" x2="28.45" y2="216.19" stroke="#2a2a2a" stroke-width="0.3"/>
<line x1="27.55" y1="213.53" x2="28.45" y2="213.53" stroke="#2a2a2a" stroke-width="0.3"/>
<line x1="27.55" y1="211.64" x2="28.45" y2="211.64" stroke="#2a2a2a" stroke-width="0.3"/>
<line x1="27.55" y1="210.17" x2="28.45" y2="210.17" stroke="#2a2a2a" stroke-width="0.3"/>
<line x1="27.55" y1="208.97" x2="28.45" y2="208.97" stroke="#2a2a2a" stroke-width="0.3"/>
<line x1="27.55" y1="207.96" x2="28.45" y2="207.96" stroke="#2a2a2a" stroke-width="0.3"/>
<line x1="27.55" y1="207.09" x2="28.45" y2="207.09" stroke="#2a2a2a" stroke-width="0.3"/>
<line x1="27.55" y1="206.31" x2="28.45" y2="206.31" stroke="#2a2a2a" stroke-width="0.3"/>
<line x1="27.55" y1="201.07" x2="28.45" y2="201.07" stroke="#2a2a2a" stroke-width="0.3"/>
<line x1="27.55" y1="198.41" x2="28.45" y2="198.41" stroke="#2a2a2a" stroke-width="0.3"/>
<line x1="27.55" y1="196.52" x2="28.45" y2="196.52" stroke="#2a2a2a" stroke-width="0.3"/>
<line x1="27.55" y1="195.05" x2="28.45" y2="195.05" stroke="#2a2a2a" stroke-width="0.3"/>
<line x1="27.55" y1="193.85" x2="28.45" y2="193.85" stroke="#2a2a2a" stroke-width="0.3"/>
<line x1="27.55" y1="192.84" x2="28.45" y2="192.84" stroke="#2a2a2a" stroke-width="0.3"/>
<line x1="27.55" y1="191.97" x2="28.45" y2="191.97" stroke="#2a2a2a" stroke-width="0.3"/>
<line x1="27.55" y1="191.19" x2="28.45" y2="191.19" stroke="#2a2a2a" stroke-width="0.3"/>
<line x1="27.55" y1="185.95" x2="28.45" y2="185.95" stroke="#2a2a2a" stroke-width="0.3"/>
<line x1="27.55" y1="183.29" x2="28.45" y2="183.29" stroke="#2a2a2a" stroke-width="0.3"/>
<line x1="27.55" y1="181.4" x2="28.45" y2="181.4" stroke="#2a2a2a" stroke-width="0.3"/>
<line x1="27.55" y1="179.93" x2="28.45" y2="179.93" stroke="#2a2a2a" stroke-width="0.3"/>
<line x1="27.55" y1="178.73" x2="28.45" y2="178.73" stroke="#2a2a2a" stroke-width="0.3"/>
<line x1="27.55" y1="177.72" x2="28.45" y2="177.72" stroke="#2a2a2a" stroke-width="0.3"/>
<line x1="27.55" y1="176.85" x2="28.45" y2="176.85" stroke="#2a2a2a" stroke-width="0.3"/>
<line x1="27.55" y1="176.07" x2="28.45" y2="176.07" stroke="#2a2a2a" stroke-width="0.3"/>
<line x1="46.5" y1="266.1" x2="46.5" y2="267.2" stroke="#2a2a2a" stroke-width="0.4"/>
<text x="46.5" y="272.73" font-size="5.3" text-anchor="middle" stroke="#262626" stroke-width="0.2">8</text>
<line x1="73.4" y1="266.1" x2="73.4" y2="267.2" stroke="#2a2a2a" stroke-width="0.4"/>
<text x="73.4" y="272.73" font-size="5.3" text-anchor="middle" stroke="#262626" stroke-width="0.2">12</text>
<line x1="100" y1="266.1" x2="100" y2="267.2" stroke="#2a2a2a" stroke-width="0.4"/>
<text x="100" y="272.73" font-size="5.3" text-anchor="middle" stroke="#262626" stroke-width="0.2">16</text>
<line x1="126.4" y1="266.1" x2="126.4" y2="267.2" stroke="#2a2a2a" stroke-width="0.4"/>
<text x="126.4" y="272.73" font-size="5.3" text-anchor="middle" stroke="#262626" stroke-width="0.2">20</text>
<line x1="153.3" y1="266.1" x2="153.3" y2="267.2" stroke="#2a2a2a" stroke-width="0.4"/>
<text x="153.3" y="272.73" font-size="5.3" text-anchor="middle" stroke="#262626" stroke-width="0.2">24</text>
<text transform="translate(9.2 220.6) rotate(-90)" font-size="8.2" text-anchor="middle" stroke="#262626" stroke-width="0.16">Objective Value</text>
</g>
<g id="chart-f">
<rect x="212.5" y="257.5" width="2.57" height="8.6" fill="#0072BD"/>
<rect x="215.02" y="257.7" width="2.57" height="8.4" fill="#E2581C"/>
<rect x="217.54" y="257.5" width="2.57" height="8.6" fill="#EDB120"/>
<rect x="220.06" y="257" width="2.57" height="9.1" fill="#7E2F8E"/>
<rect x="222.58" y="246.9" width="2.57" height="19.2" fill="#EDA3CF"/>
<rect x="225.1" y="239.6" width="2.57" height="26.5" fill="#77AC30"/>
<rect x="227.62" y="219" width="2.57" height="47.1" fill="#3FB7EE"/>
<rect x="230.14" y="242.8" width="2.57" height="23.3" fill="#A2142F"/>
<rect x="237.9" y="258.2" width="2.57" height="7.9" fill="#0072BD"/>
<rect x="240.42" y="257.7" width="2.57" height="8.4" fill="#E2581C"/>
<rect x="242.94" y="257.5" width="2.57" height="8.6" fill="#EDB120"/>
<rect x="245.46" y="257" width="2.57" height="9.1" fill="#7E2F8E"/>
<rect x="247.98" y="245" width="2.57" height="21.1" fill="#EDA3CF"/>
<rect x="250.5" y="238.2" width="2.57" height="27.9" fill="#77AC30"/>
<rect x="253.02" y="215.6" width="2.57" height="50.5" fill="#3FB7EE"/>
<rect x="255.54" y="242.3" width="2.57" height="23.8" fill="#A2142F"/>
<rect x="263.25" y="258.4" width="2.57" height="7.7" fill="#0072BD"/>
<rect x="265.77" y="258.2" width="2.57" height="7.9" fill="#E2581C"/>
<rect x="268.29" y="257.5" width="2.57" height="8.6" fill="#EDB120"/>
<rect x="270.81" y="257.3" width="2.57" height="8.8" fill="#7E2F8E"/>
<rect x="273.33" y="243.5" width="2.57" height="22.6" fill="#EDA3CF"/>
<rect x="275.85" y="237.8" width="2.57" height="28.3" fill="#77AC30"/>
<rect x="278.37" y="212.4" width="2.57" height="53.7" fill="#3FB7EE"/>
<rect x="280.89" y="242.3" width="2.57" height="23.8" fill="#A2142F"/>
<rect x="288.6" y="258.4" width="2.57" height="7.7" fill="#0072BD"/>
<rect x="291.12" y="258.2" width="2.57" height="7.9" fill="#E2581C"/>
<rect x="293.64" y="257.7" width="2.57" height="8.4" fill="#EDB120"/>
<rect x="296.16" y="257.3" width="2.57" height="8.8" fill="#7E2F8E"/>
<rect x="298.68" y="241.9" width="2.57" height="24.2" fill="#EDA3CF"/>
<rect x="301.2" y="237.3" width="2.57" height="28.8" fill="#77AC30"/>
<rect x="303.72" y="212.2" width="2.57" height="53.9" fill="#3FB7EE"/>
<rect x="306.24" y="242.3" width="2.57" height="23.8" fill="#A2142F"/>
<rect x="314" y="258.6" width="2.57" height="7.5" fill="#0072BD"/>
<rect x="316.52" y="258.4" width="2.57" height="7.7" fill="#E2581C"/>
<rect x="319.04" y="257.7" width="2.57" height="8.4" fill="#EDB120"/>
<rect x="321.56" y="257.3" width="2.57" height="8.8" fill="#7E2F8E"/>
<rect x="324.08" y="241.2" width="2.57" height="24.9" fill="#EDA3CF"/>
<rect x="326.6" y="237.1" width="2.57" height="29" fill="#77AC30"/>
<rect x="329.12" y="210.2" width="2.57" height="55.9" fill="#3FB7EE"/>
<rect x="331.64" y="243" width="2.57" height="23.1" fill="#A2142F"/>
<rect x="206.45" y="175.4" width="134.2" height="90.7" fill="none" stroke="#2a2a2a" stroke-width="0.8"/>
<line x1="205.15" y1="266.1" x2="206.45" y2="266.1" stroke="#2a2a2a" stroke-width="0.5"/>
<text x="203.5" y="268.33" font-size="5.7" text-anchor="end" stroke="#262626" stroke-width="0.2">10<tspan dy="-2.11" font-size="3.99">−1</tspan></text>
<line x1="205.15" y1="247.96" x2="206.45" y2="247.96" stroke="#2a2a2a" stroke-width="0.5"/>
<text x="203.5" y="250.19" font-size="5.7" text-anchor="end" stroke="#262626" stroke-width="0.2">10<tspan dy="-2.11" font-size="3.99">1</tspan></text>
<line x1="205.15" y1="229.82" x2="206.45" y2="229.82" stroke="#2a2a2a" stroke-width="0.5"/>
<text x="203.5" y="232.05" font-size="5.7" text-anchor="end" stroke="#262626" stroke-width="0.2">10<tspan dy="-2.11" font-size="3.99">3</tspan></text>
<line x1="205.15" y1="211.68" x2="206.45" y2="211.68" stroke="#2a2a2a" stroke-width="0.5"/>
<text x="203.5" y="213.91" font-size="5.7" text-anchor="end" stroke="#262626" stroke-width="0.2">10<tspan dy="-2.11" font-size="3.99">5</tspan></text>
<line x1="205.15" y1="193.54" x2="206.45" y2="193.54" stroke="#2a2a2a" stroke-width="0.5"/>
<text x="203.5" y="195.77" font-size="5.7" text-anchor="end" stroke="#262626" stroke-width="0.2">10<tspan dy="-2.11" font-size="3.99">7</tspan></text>
<line x1="205.15" y1="175.4" x2="206.45" y2="175.4" stroke="#2a2a2a" stroke-width="0.5"/>
<text x="203.5" y="177.63" font-size="5.7" text-anchor="end" stroke="#262626" stroke-width="0.2">10<tspan dy="-2.11" font-size="3.99">9</tspan></text>
<line x1="224" y1="266.1" x2="224" y2="267.2" stroke="#2a2a2a" stroke-width="0.4"/>
<text x="224" y="272.73" font-size="5.3" text-anchor="middle" stroke="#262626" stroke-width="0.2">8</text>
<line x1="249.4" y1="266.1" x2="249.4" y2="267.2" stroke="#2a2a2a" stroke-width="0.4"/>
<text x="249.4" y="272.73" font-size="5.3" text-anchor="middle" stroke="#262626" stroke-width="0.2">12</text>
<line x1="274.5" y1="266.1" x2="274.5" y2="267.2" stroke="#2a2a2a" stroke-width="0.4"/>
<text x="274.5" y="272.73" font-size="5.3" text-anchor="middle" stroke="#262626" stroke-width="0.2">16</text>
<line x1="299.6" y1="266.1" x2="299.6" y2="267.2" stroke="#2a2a2a" stroke-width="0.4"/>
<text x="299.6" y="272.73" font-size="5.3" text-anchor="middle" stroke="#262626" stroke-width="0.2">20</text>
<line x1="325.3" y1="266.1" x2="325.3" y2="267.2" stroke="#2a2a2a" stroke-width="0.4"/>
<text x="325.3" y="272.73" font-size="5.3" text-anchor="middle" stroke="#262626" stroke-width="0.2">24</text>
<text transform="translate(186.8 220.65) rotate(-90)" font-size="8.3" text-anchor="middle" stroke="#262626" stroke-width="0.16">Time</text>
</g>
<g id="chart-g">
<rect x="383.1" y="244" width="2.21" height="16.1" fill="#0072BD"/>
<rect x="385.26" y="245.4" width="2.21" height="14.7" fill="#E2581C"/>
<rect x="387.42" y="245.8" width="2.21" height="14.3" fill="#EDB120"/>
<rect x="389.58" y="245.8" width="2.21" height="14.3" fill="#7E2F8E"/>
<rect x="391.74" y="245.4" width="2.21" height="14.7" fill="#EDA3CF"/>
<rect x="393.9" y="246.3" width="2.21" height="13.8" fill="#77AC30"/>
<rect x="396.06" y="245.4" width="2.21" height="14.7" fill="#3FB7EE"/>
<rect x="398.22" y="218.2" width="2.21" height="41.9" fill="#A2142F"/>
<line x1="392.82" y1="246.1" x2="392.82" y2="240.2" stroke="#1c1c1c" stroke-width="0.6"/>
<line x1="399.3" y1="220.9" x2="399.3" y2="216.9" stroke="#1c1c1c" stroke-width="0.6"/>
<rect x="404.1" y="244.2" width="2.21" height="15.9" fill="#0072BD"/>
<rect x="406.26" y="245.8" width="2.21" height="14.3" fill="#E2581C"/>
<rect x="408.42" y="245.8" width="2.21" height="14.3" fill="#EDB120"/>
<rect x="410.58" y="245.8" width="2.21" height="14.3" fill="#7E2F8E"/>
<rect x="412.74" y="245.4" width="2.21" height="14.7" fill="#EDA3CF"/>
<rect x="414.9" y="246.3" width="2.21" height="13.8" fill="#77AC30"/>
<rect x="417.06" y="245.4" width="2.21" height="14.7" fill="#3FB7EE"/>
<rect x="419.22" y="218.7" width="2.21" height="41.4" fill="#A2142F"/>
<line x1="413.82" y1="246.1" x2="413.82" y2="240.2" stroke="#1c1c1c" stroke-width="0.6"/>
<line x1="420.3" y1="221.4" x2="420.3" y2="216.4" stroke="#1c1c1c" stroke-width="0.6"/>
<rect x="425.15" y="244.2" width="2.21" height="15.9" fill="#0072BD"/>
<rect x="427.31" y="245.4" width="2.21" height="14.7" fill="#E2581C"/>
<rect x="429.47" y="245.8" width="2.21" height="14.3" fill="#EDB120"/>
<rect x="431.63" y="245.8" width="2.21" height="14.3" fill="#7E2F8E"/>
<rect x="433.79" y="244.7" width="2.21" height="15.4" fill="#EDA3CF"/>
<rect x="435.95" y="246.3" width="2.21" height="13.8" fill="#77AC30"/>
<rect x="438.11" y="245.4" width="2.21" height="14.7" fill="#3FB7EE"/>
<rect x="440.27" y="216.8" width="2.21" height="43.3" fill="#A2142F"/>
<line x1="434.87" y1="246.1" x2="434.87" y2="239.5" stroke="#1c1c1c" stroke-width="0.6"/>
<line x1="441.35" y1="218.1" x2="441.35" y2="215.9" stroke="#1c1c1c" stroke-width="0.6"/>
<rect x="446.15" y="244.7" width="2.21" height="15.4" fill="#0072BD"/>
<rect x="448.31" y="245.8" width="2.21" height="14.3" fill="#E2581C"/>
<rect x="450.47" y="245.8" width="2.21" height="14.3" fill="#EDB120"/>
<rect x="452.63" y="245.8" width="2.21" height="14.3" fill="#7E2F8E"/>
<rect x="454.79" y="245.8" width="2.21" height="14.3" fill="#EDA3CF"/>
<rect x="456.95" y="246.3" width="2.21" height="13.8" fill="#77AC30"/>
<rect x="459.11" y="245.8" width="2.21" height="14.3" fill="#3FB7EE"/>
<rect x="461.27" y="218.7" width="2.21" height="41.4" fill="#A2142F"/>
<line x1="455.87" y1="247.1" x2="455.87" y2="243.1" stroke="#1c1c1c" stroke-width="0.6"/>
<line x1="462.35" y1="220.9" x2="462.35" y2="217.5" stroke="#1c1c1c" stroke-width="0.6"/>
<rect x="467.2" y="244.7" width="2.21" height="15.4" fill="#0072BD"/>
<rect x="469.36" y="246.3" width="2.21" height="13.8" fill="#E2581C"/>
<rect x="471.52" y="245.8" width="2.21" height="14.3" fill="#EDB120"/>
<rect x="473.68" y="245.8" width="2.21" height="14.3" fill="#7E2F8E"/>
<rect x="475.84" y="245.8" width="2.21" height="14.3" fill="#EDA3CF"/>
<rect x="478" y="246.3" width="2.21" height="13.8" fill="#77AC30"/>
<rect x="480.16" y="245.8" width="2.21" height="14.3" fill="#3FB7EE"/>
<rect x="482.32" y="218.7" width="2.21" height="41.4" fill="#A2142F"/>
<line x1="483.4" y1="221.4" x2="483.4" y2="217.5" stroke="#1c1c1c" stroke-width="0.6"/>
<rect x="488.2" y="244.7" width="2.21" height="15.4" fill="#0072BD"/>
<rect x="490.36" y="245.8" width="2.21" height="14.3" fill="#E2581C"/>
<rect x="492.52" y="245.8" width="2.21" height="14.3" fill="#EDB120"/>
<rect x="494.68" y="245.8" width="2.21" height="14.3" fill="#7E2F8E"/>
<rect x="496.84" y="245.8" width="2.21" height="14.3" fill="#EDA3CF"/>
<rect x="499" y="246.3" width="2.21" height="13.8" fill="#77AC30"/>
<rect x="501.16" y="245.8" width="2.21" height="14.3" fill="#3FB7EE"/>
<rect x="503.32" y="218.7" width="2.21" height="41.4" fill="#A2142F"/>
<line x1="504.4" y1="221.4" x2="504.4" y2="216.9" stroke="#1c1c1c" stroke-width="0.6"/>
<rect x="376.55" y="172.6" width="135.25" height="87.5" fill="none" stroke="#2a2a2a" stroke-width="0.8"/>
<line x1="375.25" y1="260.1" x2="376.55" y2="260.1" stroke="#2a2a2a" stroke-width="0.5"/>
<text x="373.9" y="262.33" font-size="5.7" text-anchor="end" stroke="#262626" stroke-width="0.2">10<tspan dy="-2.11" font-size="3.99">−1</tspan></text>
<line x1="375.25" y1="245.52" x2="376.55" y2="245.52" stroke="#2a2a2a" stroke-width="0.5"/>
<text x="373.9" y="247.75" font-size="5.7" text-anchor="end" stroke="#262626" stroke-width="0.2">10<tspan dy="-2.11" font-size="3.99">0</tspan></text>
<line x1="375.25" y1="230.94" x2="376.55" y2="230.94" stroke="#2a2a2a" stroke-width="0.5"/>
<text x="373.9" y="233.17" font-size="5.7" text-anchor="end" stroke="#262626" stroke-width="0.2">10<tspan dy="-2.11" font-size="3.99">1</tspan></text>
<line x1="375.25" y1="216.36" x2="376.55" y2="216.36" stroke="#2a2a2a" stroke-width="0.5"/>
<text x="373.9" y="218.59" font-size="5.7" text-anchor="end" stroke="#262626" stroke-width="0.2">10<tspan dy="-2.11" font-size="3.99">2</tspan></text>
<line x1="375.25" y1="201.78" x2="376.55" y2="201.78" stroke="#2a2a2a" stroke-width="0.5"/>
<text x="373.9" y="204.01" font-size="5.7" text-anchor="end" stroke="#262626" stroke-width="0.2">10<tspan dy="-2.11" font-size="3.99">3</tspan></text>
<line x1="375.25" y1="187.2" x2="376.55" y2="187.2" stroke="#2a2a2a" stroke-width="0.5"/>
<text x="373.9" y="189.43" font-size="5.7" text-anchor="end" stroke="#262626" stroke-width="0.2">10<tspan dy="-2.11" font-size="3.99">4</tspan></text>
<line x1="375.25" y1="172.62" x2="376.55" y2="172.62" stroke="#2a2a2a" stroke-width="0.5"/>
<text x="373.9" y="174.85" font-size="5.7" text-anchor="end" stroke="#262626" stroke-width="0.2">10<tspan dy="-2.11" font-size="3.99">5</tspan></text>
<line x1="375.65" y1="255.71" x2="376.55" y2="255.71" stroke="#2a2a2a" stroke-width="0.3"/>
<line x1="375.65" y1="253.14" x2="376.55" y2="253.14" stroke="#2a2a2a" stroke-width="0.3"/>
<line x1="375.65" y1="251.32" x2="376.55" y2="251.32" stroke="#2a2a2a" stroke-width="0.3"/>
<line x1="375.65" y1="249.91" x2="376.55" y2="249.91" stroke="#2a2a2a" stroke-width="0.3"/>
<line x1="375.65" y1="248.75" x2="376.55" y2="248.75" stroke="#2a2a2a" stroke-width="0.3"/>
<line x1="375.65" y1="247.78" x2="376.55" y2="247.78" stroke="#2a2a2a" stroke-width="0.3"/>
<line x1="375.65" y1="246.93" x2="376.55" y2="246.93" stroke="#2a2a2a" stroke-width="0.3"/>
<line x1="375.65" y1="246.19" x2="376.55" y2="246.19" stroke="#2a2a2a" stroke-width="0.3"/>
<line x1="375.65" y1="241.13" x2="376.55" y2="241.13" stroke="#2a2a2a" stroke-width="0.3"/>
<line x1="375.65" y1="238.56" x2="376.55" y2="238.56" stroke="#2a2a2a" stroke-width="0.3"/>
<line x1="375.65" y1="236.74" x2="376.55" y2="236.74" stroke="#2a2a2a" stroke-width="0.3"/>
<line x1="375.65" y1="235.33" x2="376.55" y2="235.33" stroke="#2a2a2a" stroke-width="0.3"/>
<line x1="375.65" y1="234.17" x2="376.55" y2="234.17" stroke="#2a2a2a" stroke-width="0.3"/>
<line x1="375.65" y1="233.2" x2="376.55" y2="233.2" stroke="#2a2a2a" stroke-width="0.3"/>
<line x1="375.65" y1="232.35" x2="376.55" y2="232.35" stroke="#2a2a2a" stroke-width="0.3"/>
<line x1="375.65" y1="231.61" x2="376.55" y2="231.61" stroke="#2a2a2a" stroke-width="0.3"/>
<line x1="375.65" y1="226.55" x2="376.55" y2="226.55" stroke="#2a2a2a" stroke-width="0.3"/>
<line x1="375.65" y1="223.98" x2="376.55" y2="223.98" stroke="#2a2a2a" stroke-width="0.3"/>
<line x1="375.65" y1="222.16" x2="376.55" y2="222.16" stroke="#2a2a2a" stroke-width="0.3"/>
<line x1="375.65" y1="220.75" x2="376.55" y2="220.75" stroke="#2a2a2a" stroke-width="0.3"/>
<line x1="375.65" y1="219.59" x2="376.55" y2="219.59" stroke="#2a2a2a" stroke-width="0.3"/>
<line x1="375.65" y1="218.62" x2="376.55" y2="218.62" stroke="#2a2a2a" stroke-width="0.3"/>
<line x1="375.65" y1="217.77" x2="376.55" y2="217.77" stroke="#2a2a2a" stroke-width="0.3"/>
<line x1="375.65" y1="217.03" x2="376.55" y2="217.03" stroke="#2a2a2a" stroke-width="0.3"/>
<line x1="375.65" y1="211.97" x2="376.55" y2="211.97" stroke="#2a2a2a" stroke-width="0.3"/>
<line x1="375.65" y1="209.4" x2="376.55" y2="209.4" stroke="#2a2a2a" stroke-width="0.3"/>
<line x1="375.65" y1="207.58" x2="376.55" y2="207.58" stroke="#2a2a2a" stroke-width="0.3"/>
<line x1="375.65" y1="206.17" x2="376.55" y2="206.17" stroke="#2a2a2a" stroke-width="0.3"/>
<line x1="375.65" y1="205.01" x2="376.55" y2="205.01" stroke="#2a2a2a" stroke-width="0.3"/>
<line x1="375.65" y1="204.04" x2="376.55" y2="204.04" stroke="#2a2a2a" stroke-width="0.3"/>
<line x1="375.65" y1="203.19" x2="376.55" y2="203.19" stroke="#2a2a2a" stroke-width="0.3"/>
<line x1="375.65" y1="202.45" x2="376.55" y2="202.45" stroke="#2a2a2a" stroke-width="0.3"/>
<line x1="375.65" y1="197.39" x2="376.55" y2="197.39" stroke="#2a2a2a" stroke-width="0.3"/>
<line x1="375.65" y1="194.82" x2="376.55" y2="194.82" stroke="#2a2a2a" stroke-width="0.3"/>
<line x1="375.65" y1="193" x2="376.55" y2="193" stroke="#2a2a2a" stroke-width="0.3"/>
<line x1="375.65" y1="191.59" x2="376.55" y2="191.59" stroke="#2a2a2a" stroke-width="0.3"/>
<line x1="375.65" y1="190.43" x2="376.55" y2="190.43" stroke="#2a2a2a" stroke-width="0.3"/>
<line x1="375.65" y1="189.46" x2="376.55" y2="189.46" stroke="#2a2a2a" stroke-width="0.3"/>
<line x1="375.65" y1="188.61" x2="376.55" y2="188.61" stroke="#2a2a2a" stroke-width="0.3"/>
<line x1="375.65" y1="187.87" x2="376.55" y2="187.87" stroke="#2a2a2a" stroke-width="0.3"/>
<line x1="375.65" y1="182.81" x2="376.55" y2="182.81" stroke="#2a2a2a" stroke-width="0.3"/>
<line x1="375.65" y1="180.24" x2="376.55" y2="180.24" stroke="#2a2a2a" stroke-width="0.3"/>
<line x1="375.65" y1="178.42" x2="376.55" y2="178.42" stroke="#2a2a2a" stroke-width="0.3"/>
<line x1="375.65" y1="177.01" x2="376.55" y2="177.01" stroke="#2a2a2a" stroke-width="0.3"/>
<line x1="375.65" y1="175.85" x2="376.55" y2="175.85" stroke="#2a2a2a" stroke-width="0.3"/>
<line x1="375.65" y1="174.88" x2="376.55" y2="174.88" stroke="#2a2a2a" stroke-width="0.3"/>
<line x1="375.65" y1="174.03" x2="376.55" y2="174.03" stroke="#2a2a2a" stroke-width="0.3"/>
<line x1="375.65" y1="173.29" x2="376.55" y2="173.29" stroke="#2a2a2a" stroke-width="0.3"/>
<line x1="392" y1="260.1" x2="392" y2="261.2" stroke="#2a2a2a" stroke-width="0.4"/>
<text x="392" y="266.93" font-size="5.3" text-anchor="middle" stroke="#262626" stroke-width="0.2">0.6</text>
<line x1="413.4" y1="260.1" x2="413.4" y2="261.2" stroke="#2a2a2a" stroke-width="0.4"/>
<text x="413.4" y="266.93" font-size="5.3" text-anchor="middle" stroke="#262626" stroke-width="0.2">0.8</text>
<line x1="434.7" y1="260.1" x2="434.7" y2="261.2" stroke="#2a2a2a" stroke-width="0.4"/>
<text x="434.7" y="266.93" font-size="5.3" text-anchor="middle" stroke="#262626" stroke-width="0.2">1</text>
<line x1="455.6" y1="260.1" x2="455.6" y2="261.2" stroke="#2a2a2a" stroke-width="0.4"/>
<text x="455.6" y="266.93" font-size="5.3" text-anchor="middle" stroke="#262626" stroke-width="0.2">2</text>
<line x1="476.9" y1="260.1" x2="476.9" y2="261.2" stroke="#2a2a2a" stroke-width="0.4"/>
<text x="476.9" y="266.93" font-size="5.3" text-anchor="middle" stroke="#262626" stroke-width="0.2">4</text>
<line x1="498" y1="260.1" x2="498" y2="261.2" stroke="#2a2a2a" stroke-width="0.4"/>
<text x="498" y="266.93" font-size="5.3" text-anchor="middle" stroke="#262626" stroke-width="0.2">6</text>
<text transform="translate(358.1 216.6) rotate(-90)" font-size="7.97" text-anchor="middle" stroke="#262626" stroke-width="0.16">Objective Value</text>
</g>
<g id="chart-h">
<rect x="554.3" y="251.7" width="2.16" height="8.2" fill="#0072BD"/>
<rect x="556.41" y="251.7" width="2.16" height="8.2" fill="#E2581C"/>
<rect x="558.52" y="251.7" width="2.16" height="8.2" fill="#EDB120"/>
<rect x="560.63" y="251.3" width="2.16" height="8.6" fill="#7E2F8E"/>
<rect x="562.74" y="231.4" width="2.16" height="28.5" fill="#EDA3CF"/>
<rect x="564.85" y="237" width="2.16" height="22.9" fill="#77AC30"/>
<rect x="566.96" y="218.9" width="2.16" height="41" fill="#3FB7EE"/>
<rect x="569.07" y="241.8" width="2.16" height="18.1" fill="#A2142F"/>
<line x1="555.35" y1="253.6" x2="555.35" y2="248.6" stroke="#1c1c1c" stroke-width="0.6"/>
<line x1="563.79" y1="231.9" x2="563.79" y2="230.9" stroke="#1c1c1c" stroke-width="0.6"/>
<rect x="575.3" y="252" width="2.16" height="7.9" fill="#0072BD"/>
<rect x="577.41" y="251.3" width="2.16" height="8.6" fill="#E2581C"/>
<rect x="579.52" y="251.3" width="2.16" height="8.6" fill="#EDB120"/>
<rect x="581.63" y="251.3" width="2.16" height="8.6" fill="#7E2F8E"/>
<rect x="583.74" y="230.9" width="2.16" height="29" fill="#EDA3CF"/>
<rect x="585.85" y="237" width="2.16" height="22.9" fill="#77AC30"/>
<rect x="587.96" y="216.9" width="2.16" height="43" fill="#3FB7EE"/>
<rect x="590.07" y="242.2" width="2.16" height="17.7" fill="#A2142F"/>
<line x1="584.79" y1="231.4" x2="584.79" y2="230.4" stroke="#1c1c1c" stroke-width="0.6"/>
<rect x="596.35" y="252" width="2.16" height="7.9" fill="#0072BD"/>
<rect x="598.46" y="251.7" width="2.16" height="8.2" fill="#E2581C"/>
<rect x="600.57" y="251.3" width="2.16" height="8.6" fill="#EDB120"/>
<rect x="602.68" y="251.3" width="2.16" height="8.6" fill="#7E2F8E"/>
<rect x="604.79" y="230.2" width="2.16" height="29.7" fill="#EDA3CF"/>
<rect x="606.9" y="238.8" width="2.16" height="21.1" fill="#77AC30"/>
<rect x="609.01" y="218" width="2.16" height="41.9" fill="#3FB7EE"/>
<rect x="611.12" y="241.6" width="2.16" height="18.3" fill="#A2142F"/>
<line x1="605.85" y1="230.7" x2="605.85" y2="229.7" stroke="#1c1c1c" stroke-width="0.6"/>
<rect x="617.4" y="252" width="2.16" height="7.9" fill="#0072BD"/>
<rect x="619.51" y="251.7" width="2.16" height="8.2" fill="#E2581C"/>
<rect x="621.62" y="251.3" width="2.16" height="8.6" fill="#EDB120"/>
<rect x="623.73" y="251.3" width="2.16" height="8.6" fill="#7E2F8E"/>
<rect x="625.84" y="229.8" width="2.16" height="30.1" fill="#EDA3CF"/>
<rect x="627.95" y="238.8" width="2.16" height="21.1" fill="#77AC30"/>
<rect x="630.06" y="218" width="2.16" height="41.9" fill="#3FB7EE"/>
<rect x="632.17" y="242.2" width="2.16" height="17.7" fill="#A2142F"/>
<line x1="626.89" y1="230.3" x2="626.89" y2="229.3" stroke="#1c1c1c" stroke-width="0.6"/>
<rect x="638.4" y="252" width="2.16" height="7.9" fill="#0072BD"/>
<rect x="640.51" y="251.3" width="2.16" height="8.6" fill="#E2581C"/>
<rect x="642.62" y="250.8" width="2.16" height="9.1" fill="#EDB120"/>
<rect x="644.73" y="251.3" width="2.16" height="8.6" fill="#7E2F8E"/>
<rect x="646.84" y="230.2" width="2.16" height="29.7" fill="#EDA3CF"/>
<rect x="648.95" y="238.8" width="2.16" height="21.1" fill="#77AC30"/>
<rect x="651.06" y="218.9" width="2.16" height="41" fill="#3FB7EE"/>
<rect x="653.17" y="242.2" width="2.16" height="17.7" fill="#A2142F"/>
<line x1="647.89" y1="230.7" x2="647.89" y2="229.7" stroke="#1c1c1c" stroke-width="0.6"/>
<rect x="659.45" y="253.1" width="2.16" height="6.8" fill="#0072BD"/>
<rect x="661.56" y="252.4" width="2.16" height="7.5" fill="#E2581C"/>
<rect x="663.67" y="252" width="2.16" height="7.9" fill="#EDB120"/>
<rect x="665.78" y="251.3" width="2.16" height="8.6" fill="#7E2F8E"/>
<rect x="667.89" y="230.9" width="2.16" height="29" fill="#EDA3CF"/>
<rect x="670" y="240" width="2.16" height="19.9" fill="#77AC30"/>
<rect x="672.11" y="220" width="2.16" height="39.9" fill="#3FB7EE"/>
<rect x="674.22" y="243.4" width="2.16" height="16.5" fill="#A2142F"/>
<rect x="548.25" y="171.6" width="134.5" height="88.3" fill="none" stroke="#2a2a2a" stroke-width="0.8"/>
<line x1="546.95" y1="259.9" x2="548.25" y2="259.9" stroke="#2a2a2a" stroke-width="0.5"/>
<text x="545.2" y="262.09" font-size="5.6" text-anchor="end" stroke="#262626" stroke-width="0.2">10<tspan dy="-2.07" font-size="3.92">−1</tspan></text>
<line x1="546.95" y1="242.24" x2="548.25" y2="242.24" stroke="#2a2a2a" stroke-width="0.5"/>
<text x="545.2" y="244.43" font-size="5.6" text-anchor="end" stroke="#262626" stroke-width="0.2">10<tspan dy="-2.07" font-size="3.92">1</tspan></text>
<line x1="546.95" y1="224.58" x2="548.25" y2="224.58" stroke="#2a2a2a" stroke-width="0.5"/>
<text x="545.2" y="226.77" font-size="5.6" text-anchor="end" stroke="#262626" stroke-width="0.2">10<tspan dy="-2.07" font-size="3.92">3</tspan></text>
<line x1="546.95" y1="206.92" x2="548.25" y2="206.92" stroke="#2a2a2a" stroke-width="0.5"/>
<text x="545.2" y="209.11" font-size="5.6" text-anchor="end" stroke="#262626" stroke-width="0.2">10<tspan dy="-2.07" font-size="3.92">5</tspan></text>
<line x1="546.95" y1="189.26" x2="548.25" y2="189.26" stroke="#2a2a2a" stroke-width="0.5"/>
<text x="545.2" y="191.45" font-size="5.6" text-anchor="end" stroke="#262626" stroke-width="0.2">10<tspan dy="-2.07" font-size="3.92">7</tspan></text>
<line x1="546.95" y1="171.6" x2="548.25" y2="171.6" stroke="#2a2a2a" stroke-width="0.5"/>
<text x="545.2" y="173.79" font-size="5.6" text-anchor="end" stroke="#262626" stroke-width="0.2">10<tspan dy="-2.07" font-size="3.92">9</tspan></text>
<line x1="564" y1="259.9" x2="564" y2="261" stroke="#2a2a2a" stroke-width="0.4"/>
<text x="564" y="266.93" font-size="5.3" text-anchor="middle" stroke="#262626" stroke-width="0.2">0.6</text>
<line x1="585.1" y1="259.9" x2="585.1" y2="261" stroke="#2a2a2a" stroke-width="0.4"/>
<text x="585.1" y="266.93" font-size="5.3" text-anchor="middle" stroke="#262626" stroke-width="0.2">0.8</text>
<line x1="606" y1="259.9" x2="606" y2="261" stroke="#2a2a2a" stroke-width="0.4"/>
<text x="606" y="266.93" font-size="5.3" text-anchor="middle" stroke="#262626" stroke-width="0.2">1</text>
<line x1="626.8" y1="259.9" x2="626.8" y2="261" stroke="#2a2a2a" stroke-width="0.4"/>
<text x="626.8" y="266.93" font-size="5.3" text-anchor="middle" stroke="#262626" stroke-width="0.2">2</text>
<line x1="648.2" y1="259.9" x2="648.2" y2="261" stroke="#2a2a2a" stroke-width="0.4"/>
<text x="648.2" y="266.93" font-size="5.3" text-anchor="middle" stroke="#262626" stroke-width="0.2">4</text>
<line x1="669" y1="259.9" x2="669" y2="261" stroke="#2a2a2a" stroke-width="0.4"/>
<text x="669" y="266.93" font-size="5.3" text-anchor="middle" stroke="#262626" stroke-width="0.2">6</text>
<text transform="translate(529.6 215.65) rotate(-90)" font-size="8.2" text-anchor="middle" stroke="#262626" stroke-width="0.16">Time</text>
</g>
<g id="captions">
<text x="12.6" y="157.7" font-size="18" font-family='"Liberation Serif","DejaVu Serif",serif' fill="#222" textLength="140" lengthAdjust="spacingAndGlyphs" text-anchor="start">(a) Real Datasets</text>
<text x="183.3" y="157.7" font-size="18" font-family='"Liberation Serif","DejaVu Serif",serif' fill="#222" textLength="141.2" lengthAdjust="spacingAndGlyphs" text-anchor="start">(b) Real Datasets</text>
<text x="409.6" y="158" font-size="18" font-family='"Liberation Serif","DejaVu Serif",serif' fill="#222" textLength="21.6" lengthAdjust="spacingAndGlyphs" text-anchor="start">(c)</text>
<text x="437.2" y="158" font-size="18" font-family='"Liberation Serif","DejaVu Serif",serif' fill="#222" textLength="10.2" lengthAdjust="spacingAndGlyphs" font-style="italic" text-anchor="start">σ</text>
<text x="582.8" y="158" font-size="18" font-family='"Liberation Serif","DejaVu Serif",serif' fill="#222" textLength="23" lengthAdjust="spacingAndGlyphs" text-anchor="start">(d)</text>
<text x="613.4" y="158" font-size="18" font-family='"Liberation Serif","DejaVu Serif",serif' fill="#222" textLength="10.2" lengthAdjust="spacingAndGlyphs" font-style="italic" text-anchor="start">σ</text>
<text x="67.3" y="304.3" font-size="18" font-family='"Liberation Serif","DejaVu Serif",serif' fill="#222" textLength="21.4" lengthAdjust="spacingAndGlyphs" text-anchor="start">(e)</text>
<text x="95" y="304.3" font-size="18" font-family='"Liberation Serif","DejaVu Serif",serif' fill="#222" textLength="9.3" lengthAdjust="spacingAndGlyphs" font-style="italic" text-anchor="start">k</text>
<text x="242.4" y="304.3" font-size="18" font-family='"Liberation Serif","DejaVu Serif",serif' fill="#222" textLength="19.5" lengthAdjust="spacingAndGlyphs" text-anchor="start">(f)</text>
<text x="270" y="304.3" font-size="18" font-family='"Liberation Serif","DejaVu Serif",serif' fill="#222" textLength="9.3" lengthAdjust="spacingAndGlyphs" font-style="italic" text-anchor="start">k</text>
<text x="362" y="297.3" font-size="18" font-family='"Liberation Serif","DejaVu Serif",serif' fill="#222" textLength="20.6" lengthAdjust="spacingAndGlyphs" text-anchor="start">(g)</text>
<text x="390.5" y="297.3" font-size="18" font-family='"Liberation Serif","DejaVu Serif",serif' fill="#222" textLength="28.2" lengthAdjust="spacingAndGlyphs" text-anchor="start">min</text>
<text x="405.3" y="307.8" font-size="12.5" font-family='"Liberation Serif","DejaVu Serif",serif' fill="#222" font-style="italic" text-anchor="middle">i</text>
<line x1="425.8" y1="285.3" x2="425.8" y2="301.6" stroke="#222" stroke-width="0.75"/>
<text x="428.4" y="297.3" font-size="18" font-family='"Liberation Serif","DejaVu Serif",serif' fill="#222" textLength="13.6" lengthAdjust="spacingAndGlyphs" font-style="italic" text-anchor="start">C</text>
<text x="447" y="293" font-size="13.5" font-family='"Liberation Serif","DejaVu Serif",serif' fill="#222" text-anchor="middle">*</text>
<text x="445.2" y="301.6" font-size="12.5" font-family='"Liberation Serif","DejaVu Serif",serif' fill="#222" font-style="italic" text-anchor="middle">i</text>
<line x1="454.4" y1="285.3" x2="454.4" y2="301.6" stroke="#222" stroke-width="0.75"/>
<line x1="457.6" y1="301.8" x2="465" y2="285.2" stroke="#222" stroke-width="0.75"/>
<text x="467.6" y="297.3" font-size="18" font-family='"Liberation Serif","DejaVu Serif",serif' fill="#222" textLength="6" lengthAdjust="spacingAndGlyphs" text-anchor="start">(</text>
<text x="474.2" y="297.3" font-size="18" font-family='"Liberation Serif","DejaVu Serif",serif' fill="#222" textLength="10.2" lengthAdjust="spacingAndGlyphs" font-style="italic" text-anchor="start">σ</text>
<text x="485.6" y="297.3" font-size="18" font-family='"Liberation Serif","DejaVu Serif",serif' fill="#222" textLength="10.4" lengthAdjust="spacingAndGlyphs" font-style="italic" text-anchor="start">n</text>
<text x="496" y="297.3" font-size="18" font-family='"Liberation Serif","DejaVu Serif",serif' fill="#222" textLength="6" lengthAdjust="spacingAndGlyphs" text-anchor="start">)</text>
<text x="533.2" y="297.3" font-size="18" font-family='"Liberation Serif","DejaVu Serif",serif' fill="#222" textLength="21" lengthAdjust="spacingAndGlyphs" text-anchor="start">(h)</text>
<text x="562.4" y="297.3" font-size="18" font-family='"Liberation Serif","DejaVu Serif",serif' fill="#222" textLength="28.2" lengthAdjust="spacingAndGlyphs" text-anchor="start">min</text>
<text x="577.2" y="307.8" font-size="12.5" font-family='"Liberation Serif","DejaVu Serif",serif' fill="#222" font-style="italic" text-anchor="middle">i</text>
<line x1="597.7" y1="285.3" x2="597.7" y2="301.6" stroke="#222" stroke-width="0.75"/>
<text x="600.3" y="297.3" font-size="18" font-family='"Liberation Serif","DejaVu Serif",serif' fill="#222" textLength="13.6" lengthAdjust="spacingAndGlyphs" font-style="italic" text-anchor="start">C</text>
<text x="618.9" y="293" font-size="13.5" font-family='"Liberation Serif","DejaVu Serif",serif' fill="#222" text-anchor="middle">*</text>
<text x="617.1" y="301.6" font-size="12.5" font-family='"Liberation Serif","DejaVu Serif",serif' fill="#222" font-style="italic" text-anchor="middle">i</text>
<line x1="626.3" y1="285.3" x2="626.3" y2="301.6" stroke="#222" stroke-width="0.75"/>
<line x1="629.5" y1="301.8" x2="636.9" y2="285.2" stroke="#222" stroke-width="0.75"/>
<text x="639.5" y="297.3" font-size="18" font-family='"Liberation Serif","DejaVu Serif",serif' fill="#222" textLength="6" lengthAdjust="spacingAndGlyphs" text-anchor="start">(</text>
<text x="646.1" y="297.3" font-size="18" font-family='"Liberation Serif","DejaVu Serif",serif' fill="#222" textLength="10.2" lengthAdjust="spacingAndGlyphs" font-style="italic" text-anchor="start">σ</text>
<text x="657.5" y="297.3" font-size="18" font-family='"Liberation Serif","DejaVu Serif",serif' fill="#222" textLength="10.4" lengthAdjust="spacingAndGlyphs" font-style="italic" text-anchor="start">n</text>
<text x="667.9" y="297.3" font-size="18" font-family='"Liberation Serif","DejaVu Serif",serif' fill="#222" textLength="6" lengthAdjust="spacingAndGlyphs" text-anchor="start">)</text>
</g>
</svg>
</body>
</html>
